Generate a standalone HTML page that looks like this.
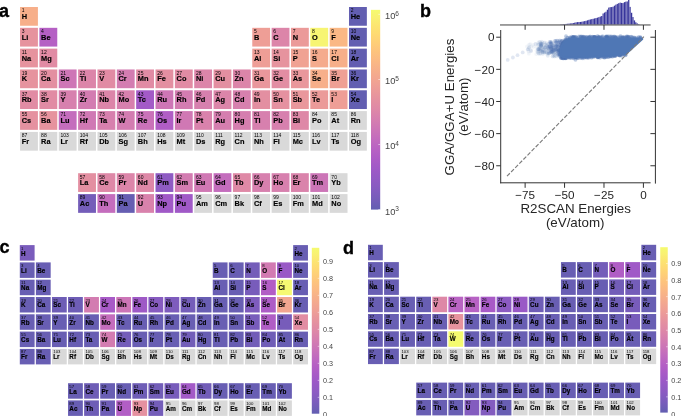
<!DOCTYPE html>
<html><head><meta charset="utf-8"><title>figure</title><style>html,body{margin:0;padding:0;background:#fff}svg{display:block}</style></head><body>
<svg width="685" height="416" viewBox="0 0 685 416" font-family="'Liberation Sans', Arial, Helvetica, sans-serif" fill="#000">
<defs><linearGradient id="pg" x1="0" y1="0" x2="0" y2="1"><stop offset="0.0000" stop-color="#f5fb6f"/><stop offset="0.0417" stop-color="#f9f072"/><stop offset="0.0833" stop-color="#fce471"/><stop offset="0.1250" stop-color="#fed973"/><stop offset="0.1667" stop-color="#fece78"/><stop offset="0.2083" stop-color="#fdc37d"/><stop offset="0.2500" stop-color="#fbba83"/><stop offset="0.2917" stop-color="#f7b189"/><stop offset="0.3333" stop-color="#f3a88f"/><stop offset="0.3750" stop-color="#efa095"/><stop offset="0.4167" stop-color="#e9979b"/><stop offset="0.4583" stop-color="#e38fa1"/><stop offset="0.5000" stop-color="#de88a7"/><stop offset="0.5417" stop-color="#d780ae"/><stop offset="0.5833" stop-color="#cf78b4"/><stop offset="0.6250" stop-color="#c770ba"/><stop offset="0.6667" stop-color="#be68c0"/><stop offset="0.7083" stop-color="#b560c4"/><stop offset="0.7500" stop-color="#ab5bc6"/><stop offset="0.7917" stop-color="#a059c7"/><stop offset="0.8333" stop-color="#955ac5"/><stop offset="0.8750" stop-color="#8b5bc2"/><stop offset="0.9167" stop-color="#7f5cbe"/><stop offset="0.9583" stop-color="#725db8"/><stop offset="1.0000" stop-color="#625eb1"/></linearGradient></defs>
<rect width="685" height="416" fill="#fff"/>
<text x="-0.9" y="16.9" font-size="18" font-weight="bold" stroke="#000" stroke-width="0.35">a</text>
<text x="419.9" y="16.8" font-size="18" font-weight="bold" stroke="#000" stroke-width="0.35">b</text>
<text x="-0.6" y="252.9" font-size="18" font-weight="bold" stroke="#000" stroke-width="0.35">c</text>
<text x="342.9" y="253.7" font-size="18" font-weight="bold" stroke="#000" stroke-width="0.35">d</text>
<g id="pa"><rect x="20.06" y="7.00" width="17.85" height="18.75" fill="#f7af8a"/>
<text x="21.76" y="12.30" font-size="5.0" >1</text>
<text x="21.76" y="18.90" font-size="7.4" font-weight="bold" stroke="#000" stroke-width="0.15">H</text>
<rect x="349.01" y="7.00" width="17.85" height="18.75" fill="#625eb1"/>
<text x="350.71" y="12.30" font-size="5.0" >2</text>
<text x="350.71" y="18.90" font-size="7.4" font-weight="bold" stroke="#000" stroke-width="0.15">He</text>
<rect x="20.06" y="27.82" width="17.85" height="18.75" fill="#e6939e"/>
<text x="21.76" y="33.12" font-size="5.0" >3</text>
<text x="21.76" y="39.72" font-size="7.4" font-weight="bold" stroke="#000" stroke-width="0.15">Li</text>
<rect x="39.41" y="27.82" width="17.85" height="18.75" fill="#b560c4"/>
<text x="41.11" y="33.12" font-size="5.0" >4</text>
<text x="41.11" y="39.72" font-size="7.4" font-weight="bold" stroke="#000" stroke-width="0.15">Be</text>
<rect x="252.26" y="27.82" width="17.85" height="18.75" fill="#ee9e96"/>
<text x="253.96" y="33.12" font-size="5.0" >5</text>
<text x="253.96" y="39.72" font-size="7.4" font-weight="bold" stroke="#000" stroke-width="0.15">B</text>
<rect x="271.61" y="27.82" width="17.85" height="18.75" fill="#dc85a9"/>
<text x="273.31" y="33.12" font-size="5.0" >6</text>
<text x="273.31" y="39.72" font-size="7.4" font-weight="bold" stroke="#000" stroke-width="0.15">C</text>
<rect x="290.96" y="27.82" width="17.85" height="18.75" fill="#eb9a99"/>
<text x="292.66" y="33.12" font-size="5.0" >7</text>
<text x="292.66" y="39.72" font-size="7.4" font-weight="bold" stroke="#000" stroke-width="0.15">N</text>
<rect x="310.31" y="27.82" width="17.85" height="18.75" fill="#f7f573"/>
<text x="312.01" y="33.12" font-size="5.0" >8</text>
<text x="312.01" y="39.72" font-size="7.4" font-weight="bold" stroke="#000" stroke-width="0.15">O</text>
<rect x="329.66" y="27.82" width="17.85" height="18.75" fill="#fab885"/>
<text x="331.36" y="33.12" font-size="5.0" >9</text>
<text x="331.36" y="39.72" font-size="7.4" font-weight="bold" stroke="#000" stroke-width="0.15">F</text>
<rect x="349.01" y="27.82" width="17.85" height="18.75" fill="#625eb1"/>
<text x="350.71" y="33.12" font-size="5.0" >10</text>
<text x="350.71" y="39.72" font-size="7.4" font-weight="bold" stroke="#000" stroke-width="0.15">Ne</text>
<rect x="20.06" y="48.64" width="17.85" height="18.75" fill="#e6939e"/>
<text x="21.76" y="53.94" font-size="5.0" >11</text>
<text x="21.76" y="60.54" font-size="7.4" font-weight="bold" stroke="#000" stroke-width="0.15">Na</text>
<rect x="39.41" y="48.64" width="17.85" height="18.75" fill="#e18ba4"/>
<text x="41.11" y="53.94" font-size="5.0" >12</text>
<text x="41.11" y="60.54" font-size="7.4" font-weight="bold" stroke="#000" stroke-width="0.15">Mg</text>
<rect x="252.26" y="48.64" width="17.85" height="18.75" fill="#ee9e96"/>
<text x="253.96" y="53.94" font-size="5.0" >13</text>
<text x="253.96" y="60.54" font-size="7.4" font-weight="bold" stroke="#000" stroke-width="0.15">Al</text>
<rect x="271.61" y="48.64" width="17.85" height="18.75" fill="#e6939e"/>
<text x="273.31" y="53.94" font-size="5.0" >14</text>
<text x="273.31" y="60.54" font-size="7.4" font-weight="bold" stroke="#000" stroke-width="0.15">Si</text>
<rect x="290.96" y="48.64" width="17.85" height="18.75" fill="#f0a293"/>
<text x="292.66" y="53.94" font-size="5.0" >15</text>
<text x="292.66" y="60.54" font-size="7.4" font-weight="bold" stroke="#000" stroke-width="0.15">P</text>
<rect x="310.31" y="48.64" width="17.85" height="18.75" fill="#f5ab8d"/>
<text x="312.01" y="53.94" font-size="5.0" >16</text>
<text x="312.01" y="60.54" font-size="7.4" font-weight="bold" stroke="#000" stroke-width="0.15">S</text>
<rect x="329.66" y="48.64" width="17.85" height="18.75" fill="#f7af8a"/>
<text x="331.36" y="53.94" font-size="5.0" >17</text>
<text x="331.36" y="60.54" font-size="7.4" font-weight="bold" stroke="#000" stroke-width="0.15">Cl</text>
<rect x="349.01" y="48.64" width="17.85" height="18.75" fill="#625eb1"/>
<text x="350.71" y="53.94" font-size="5.0" >18</text>
<text x="350.71" y="60.54" font-size="7.4" font-weight="bold" stroke="#000" stroke-width="0.15">Ar</text>
<rect x="20.06" y="69.46" width="17.85" height="18.75" fill="#e6939e"/>
<text x="21.76" y="74.76" font-size="5.0" >19</text>
<text x="21.76" y="81.36" font-size="7.4" font-weight="bold" stroke="#000" stroke-width="0.15">K</text>
<rect x="39.41" y="69.46" width="17.85" height="18.75" fill="#e38fa1"/>
<text x="41.11" y="74.76" font-size="5.0" >20</text>
<text x="41.11" y="81.36" font-size="7.4" font-weight="bold" stroke="#000" stroke-width="0.15">Ca</text>
<rect x="58.76" y="69.46" width="17.85" height="18.75" fill="#ce76b6"/>
<text x="60.46" y="74.76" font-size="5.0" >21</text>
<text x="60.46" y="81.36" font-size="7.4" font-weight="bold" stroke="#000" stroke-width="0.15">Sc</text>
<rect x="78.11" y="69.46" width="17.85" height="18.75" fill="#dc85a9"/>
<text x="79.81" y="74.76" font-size="5.0" >22</text>
<text x="79.81" y="81.36" font-size="7.4" font-weight="bold" stroke="#000" stroke-width="0.15">Ti</text>
<rect x="97.46" y="69.46" width="17.85" height="18.75" fill="#e18ba4"/>
<text x="99.16" y="74.76" font-size="5.0" >23</text>
<text x="99.16" y="81.36" font-size="7.4" font-weight="bold" stroke="#000" stroke-width="0.15">V</text>
<rect x="116.81" y="69.46" width="17.85" height="18.75" fill="#d37cb1"/>
<text x="118.51" y="74.76" font-size="5.0" >24</text>
<text x="118.51" y="81.36" font-size="7.4" font-weight="bold" stroke="#000" stroke-width="0.15">Cr</text>
<rect x="136.16" y="69.46" width="17.85" height="18.75" fill="#e18ba4"/>
<text x="137.86" y="74.76" font-size="5.0" >25</text>
<text x="137.86" y="81.36" font-size="7.4" font-weight="bold" stroke="#000" stroke-width="0.15">Mn</text>
<rect x="155.51" y="69.46" width="17.85" height="18.75" fill="#e38fa1"/>
<text x="157.21" y="74.76" font-size="5.0" >26</text>
<text x="157.21" y="81.36" font-size="7.4" font-weight="bold" stroke="#000" stroke-width="0.15">Fe</text>
<rect x="174.86" y="69.46" width="17.85" height="18.75" fill="#e18ba4"/>
<text x="176.56" y="74.76" font-size="5.0" >27</text>
<text x="176.56" y="81.36" font-size="7.4" font-weight="bold" stroke="#000" stroke-width="0.15">Co</text>
<rect x="194.21" y="69.46" width="17.85" height="18.75" fill="#dc85a9"/>
<text x="195.91" y="74.76" font-size="5.0" >28</text>
<text x="195.91" y="81.36" font-size="7.4" font-weight="bold" stroke="#000" stroke-width="0.15">Ni</text>
<rect x="213.56" y="69.46" width="17.85" height="18.75" fill="#e38fa1"/>
<text x="215.26" y="74.76" font-size="5.0" >29</text>
<text x="215.26" y="81.36" font-size="7.4" font-weight="bold" stroke="#000" stroke-width="0.15">Cu</text>
<rect x="232.91" y="69.46" width="17.85" height="18.75" fill="#dc85a9"/>
<text x="234.61" y="74.76" font-size="5.0" >30</text>
<text x="234.61" y="81.36" font-size="7.4" font-weight="bold" stroke="#000" stroke-width="0.15">Zn</text>
<rect x="252.26" y="69.46" width="17.85" height="18.75" fill="#e9979c"/>
<text x="253.96" y="74.76" font-size="5.0" >31</text>
<text x="253.96" y="81.36" font-size="7.4" font-weight="bold" stroke="#000" stroke-width="0.15">Ga</text>
<rect x="271.61" y="69.46" width="17.85" height="18.75" fill="#e28da3"/>
<text x="273.31" y="74.76" font-size="5.0" >32</text>
<text x="273.31" y="81.36" font-size="7.4" font-weight="bold" stroke="#000" stroke-width="0.15">Ge</text>
<rect x="290.96" y="69.46" width="17.85" height="18.75" fill="#e9979c"/>
<text x="292.66" y="74.76" font-size="5.0" >33</text>
<text x="292.66" y="81.36" font-size="7.4" font-weight="bold" stroke="#000" stroke-width="0.15">As</text>
<rect x="310.31" y="69.46" width="17.85" height="18.75" fill="#f7af8a"/>
<text x="312.01" y="74.76" font-size="5.0" >34</text>
<text x="312.01" y="81.36" font-size="7.4" font-weight="bold" stroke="#000" stroke-width="0.15">Se</text>
<rect x="329.66" y="69.46" width="17.85" height="18.75" fill="#efa094"/>
<text x="331.36" y="74.76" font-size="5.0" >35</text>
<text x="331.36" y="81.36" font-size="7.4" font-weight="bold" stroke="#000" stroke-width="0.15">Br</text>
<rect x="349.01" y="69.46" width="17.85" height="18.75" fill="#625eb1"/>
<text x="350.71" y="74.76" font-size="5.0" >36</text>
<text x="350.71" y="81.36" font-size="7.4" font-weight="bold" stroke="#000" stroke-width="0.15">Kr</text>
<rect x="20.06" y="90.28" width="17.85" height="18.75" fill="#e18ba4"/>
<text x="21.76" y="95.58" font-size="5.0" >37</text>
<text x="21.76" y="102.18" font-size="7.4" font-weight="bold" stroke="#000" stroke-width="0.15">Rb</text>
<rect x="39.41" y="90.28" width="17.85" height="18.75" fill="#e18ba4"/>
<text x="41.11" y="95.58" font-size="5.0" >38</text>
<text x="41.11" y="102.18" font-size="7.4" font-weight="bold" stroke="#000" stroke-width="0.15">Sr</text>
<rect x="58.76" y="90.28" width="17.85" height="18.75" fill="#d780ae"/>
<text x="60.46" y="95.58" font-size="5.0" >39</text>
<text x="60.46" y="102.18" font-size="7.4" font-weight="bold" stroke="#000" stroke-width="0.15">Y</text>
<rect x="78.11" y="90.28" width="17.85" height="18.75" fill="#d37cb1"/>
<text x="79.81" y="95.58" font-size="5.0" >40</text>
<text x="79.81" y="102.18" font-size="7.4" font-weight="bold" stroke="#000" stroke-width="0.15">Zr</text>
<rect x="97.46" y="90.28" width="17.85" height="18.75" fill="#dc85a9"/>
<text x="99.16" y="95.58" font-size="5.0" >41</text>
<text x="99.16" y="102.18" font-size="7.4" font-weight="bold" stroke="#000" stroke-width="0.15">Nb</text>
<rect x="116.81" y="90.28" width="17.85" height="18.75" fill="#d780ae"/>
<text x="118.51" y="95.58" font-size="5.0" >42</text>
<text x="118.51" y="102.18" font-size="7.4" font-weight="bold" stroke="#000" stroke-width="0.15">Mo</text>
<rect x="136.16" y="90.28" width="17.85" height="18.75" fill="#a35ac7"/>
<text x="137.86" y="95.58" font-size="5.0" >43</text>
<text x="137.86" y="102.18" font-size="7.4" font-weight="bold" stroke="#000" stroke-width="0.15">Tc</text>
<rect x="155.51" y="90.28" width="17.85" height="18.75" fill="#ce76b6"/>
<text x="157.21" y="95.58" font-size="5.0" >44</text>
<text x="157.21" y="102.18" font-size="7.4" font-weight="bold" stroke="#000" stroke-width="0.15">Ru</text>
<rect x="174.86" y="90.28" width="17.85" height="18.75" fill="#d37cb1"/>
<text x="176.56" y="95.58" font-size="5.0" >45</text>
<text x="176.56" y="102.18" font-size="7.4" font-weight="bold" stroke="#000" stroke-width="0.15">Rh</text>
<rect x="194.21" y="90.28" width="17.85" height="18.75" fill="#d780ae"/>
<text x="195.91" y="95.58" font-size="5.0" >46</text>
<text x="195.91" y="102.18" font-size="7.4" font-weight="bold" stroke="#000" stroke-width="0.15">Pd</text>
<rect x="213.56" y="90.28" width="17.85" height="18.75" fill="#dc85a9"/>
<text x="215.26" y="95.58" font-size="5.0" >47</text>
<text x="215.26" y="102.18" font-size="7.4" font-weight="bold" stroke="#000" stroke-width="0.15">Ag</text>
<rect x="232.91" y="90.28" width="17.85" height="18.75" fill="#d780ae"/>
<text x="234.61" y="95.58" font-size="5.0" >48</text>
<text x="234.61" y="102.18" font-size="7.4" font-weight="bold" stroke="#000" stroke-width="0.15">Cd</text>
<rect x="252.26" y="90.28" width="17.85" height="18.75" fill="#e38fa1"/>
<text x="253.96" y="95.58" font-size="5.0" >49</text>
<text x="253.96" y="102.18" font-size="7.4" font-weight="bold" stroke="#000" stroke-width="0.15">In</text>
<rect x="271.61" y="90.28" width="17.85" height="18.75" fill="#e591a0"/>
<text x="273.31" y="95.58" font-size="5.0" >50</text>
<text x="273.31" y="102.18" font-size="7.4" font-weight="bold" stroke="#000" stroke-width="0.15">Sn</text>
<rect x="290.96" y="90.28" width="17.85" height="18.75" fill="#e9979c"/>
<text x="292.66" y="95.58" font-size="5.0" >51</text>
<text x="292.66" y="102.18" font-size="7.4" font-weight="bold" stroke="#000" stroke-width="0.15">Sb</text>
<rect x="310.31" y="90.28" width="17.85" height="18.75" fill="#eb9a99"/>
<text x="312.01" y="95.58" font-size="5.0" >52</text>
<text x="312.01" y="102.18" font-size="7.4" font-weight="bold" stroke="#000" stroke-width="0.15">Te</text>
<rect x="329.66" y="90.28" width="17.85" height="18.75" fill="#ee9e96"/>
<text x="331.36" y="95.58" font-size="5.0" >53</text>
<text x="331.36" y="102.18" font-size="7.4" font-weight="bold" stroke="#000" stroke-width="0.15">I</text>
<rect x="349.01" y="90.28" width="17.85" height="18.75" fill="#625eb1"/>
<text x="350.71" y="95.58" font-size="5.0" >54</text>
<text x="350.71" y="102.18" font-size="7.4" font-weight="bold" stroke="#000" stroke-width="0.15">Xe</text>
<rect x="20.06" y="111.10" width="17.85" height="18.75" fill="#e591a0"/>
<text x="21.76" y="116.40" font-size="5.0" >55</text>
<text x="21.76" y="123.00" font-size="7.4" font-weight="bold" stroke="#000" stroke-width="0.15">Cs</text>
<rect x="39.41" y="111.10" width="17.85" height="18.75" fill="#e6939e"/>
<text x="41.11" y="116.40" font-size="5.0" >56</text>
<text x="41.11" y="123.00" font-size="7.4" font-weight="bold" stroke="#000" stroke-width="0.15">Ba</text>
<rect x="58.76" y="111.10" width="17.85" height="18.75" fill="#c46dbd"/>
<text x="60.46" y="116.40" font-size="5.0" >71</text>
<text x="60.46" y="123.00" font-size="7.4" font-weight="bold" stroke="#000" stroke-width="0.15">Lu</text>
<rect x="78.11" y="111.10" width="17.85" height="18.75" fill="#d078b4"/>
<text x="79.81" y="116.40" font-size="5.0" >72</text>
<text x="79.81" y="123.00" font-size="7.4" font-weight="bold" stroke="#000" stroke-width="0.15">Hf</text>
<rect x="97.46" y="111.10" width="17.85" height="18.75" fill="#d780ae"/>
<text x="99.16" y="116.40" font-size="5.0" >73</text>
<text x="99.16" y="123.00" font-size="7.4" font-weight="bold" stroke="#000" stroke-width="0.15">Ta</text>
<rect x="116.81" y="111.10" width="17.85" height="18.75" fill="#d37cb1"/>
<text x="118.51" y="116.40" font-size="5.0" >74</text>
<text x="118.51" y="123.00" font-size="7.4" font-weight="bold" stroke="#000" stroke-width="0.15">W</text>
<rect x="136.16" y="111.10" width="17.85" height="18.75" fill="#ca72b9"/>
<text x="137.86" y="116.40" font-size="5.0" >75</text>
<text x="137.86" y="123.00" font-size="7.4" font-weight="bold" stroke="#000" stroke-width="0.15">Re</text>
<rect x="155.51" y="111.10" width="17.85" height="18.75" fill="#b05dc5"/>
<text x="157.21" y="116.40" font-size="5.0" >76</text>
<text x="157.21" y="123.00" font-size="7.4" font-weight="bold" stroke="#000" stroke-width="0.15">Os</text>
<rect x="174.86" y="111.10" width="17.85" height="18.75" fill="#d078b4"/>
<text x="176.56" y="116.40" font-size="5.0" >77</text>
<text x="176.56" y="123.00" font-size="7.4" font-weight="bold" stroke="#000" stroke-width="0.15">Ir</text>
<rect x="194.21" y="111.10" width="17.85" height="18.75" fill="#d982ac"/>
<text x="195.91" y="116.40" font-size="5.0" >78</text>
<text x="195.91" y="123.00" font-size="7.4" font-weight="bold" stroke="#000" stroke-width="0.15">Pt</text>
<rect x="213.56" y="111.10" width="17.85" height="18.75" fill="#d57eaf"/>
<text x="215.26" y="116.40" font-size="5.0" >79</text>
<text x="215.26" y="123.00" font-size="7.4" font-weight="bold" stroke="#000" stroke-width="0.15">Au</text>
<rect x="232.91" y="111.10" width="17.85" height="18.75" fill="#d57eaf"/>
<text x="234.61" y="116.40" font-size="5.0" >80</text>
<text x="234.61" y="123.00" font-size="7.4" font-weight="bold" stroke="#000" stroke-width="0.15">Hg</text>
<rect x="252.26" y="111.10" width="17.85" height="18.75" fill="#d780ae"/>
<text x="253.96" y="116.40" font-size="5.0" >81</text>
<text x="253.96" y="123.00" font-size="7.4" font-weight="bold" stroke="#000" stroke-width="0.15">Tl</text>
<rect x="271.61" y="111.10" width="17.85" height="18.75" fill="#d780ae"/>
<text x="273.31" y="116.40" font-size="5.0" >82</text>
<text x="273.31" y="123.00" font-size="7.4" font-weight="bold" stroke="#000" stroke-width="0.15">Pb</text>
<rect x="290.96" y="111.10" width="17.85" height="18.75" fill="#de88a7"/>
<text x="292.66" y="116.40" font-size="5.0" >83</text>
<text x="292.66" y="123.00" font-size="7.4" font-weight="bold" stroke="#000" stroke-width="0.15">Bi</text>
<rect x="310.31" y="111.10" width="17.85" height="18.75" fill="#d9d9d9"/>
<text x="312.01" y="116.40" font-size="5.0" >84</text>
<text x="312.01" y="123.00" font-size="7.4" font-weight="bold" stroke="#000" stroke-width="0.15">Po</text>
<rect x="329.66" y="111.10" width="17.85" height="18.75" fill="#d9d9d9"/>
<text x="331.36" y="116.40" font-size="5.0" >85</text>
<text x="331.36" y="123.00" font-size="7.4" font-weight="bold" stroke="#000" stroke-width="0.15">At</text>
<rect x="349.01" y="111.10" width="17.85" height="18.75" fill="#d9d9d9"/>
<text x="350.71" y="116.40" font-size="5.0" >86</text>
<text x="350.71" y="123.00" font-size="7.4" font-weight="bold" stroke="#000" stroke-width="0.15">Rn</text>
<rect x="20.06" y="131.92" width="17.85" height="18.75" fill="#d9d9d9"/>
<text x="21.76" y="137.22" font-size="5.0" >87</text>
<text x="21.76" y="143.82" font-size="7.4" font-weight="bold" stroke="#000" stroke-width="0.15">Fr</text>
<rect x="39.41" y="131.92" width="17.85" height="18.75" fill="#d9d9d9"/>
<text x="41.11" y="137.22" font-size="5.0" >88</text>
<text x="41.11" y="143.82" font-size="7.4" font-weight="bold" stroke="#000" stroke-width="0.15">Ra</text>
<rect x="58.76" y="131.92" width="17.85" height="18.75" fill="#d9d9d9"/>
<text x="60.46" y="137.22" font-size="5.0" >103</text>
<text x="60.46" y="143.82" font-size="7.4" font-weight="bold" stroke="#000" stroke-width="0.15">Lr</text>
<rect x="78.11" y="131.92" width="17.85" height="18.75" fill="#d9d9d9"/>
<text x="79.81" y="137.22" font-size="5.0" >104</text>
<text x="79.81" y="143.82" font-size="7.4" font-weight="bold" stroke="#000" stroke-width="0.15">Rf</text>
<rect x="97.46" y="131.92" width="17.85" height="18.75" fill="#d9d9d9"/>
<text x="99.16" y="137.22" font-size="5.0" >105</text>
<text x="99.16" y="143.82" font-size="7.4" font-weight="bold" stroke="#000" stroke-width="0.15">Db</text>
<rect x="116.81" y="131.92" width="17.85" height="18.75" fill="#d9d9d9"/>
<text x="118.51" y="137.22" font-size="5.0" >106</text>
<text x="118.51" y="143.82" font-size="7.4" font-weight="bold" stroke="#000" stroke-width="0.15">Sg</text>
<rect x="136.16" y="131.92" width="17.85" height="18.75" fill="#d9d9d9"/>
<text x="137.86" y="137.22" font-size="5.0" >107</text>
<text x="137.86" y="143.82" font-size="7.4" font-weight="bold" stroke="#000" stroke-width="0.15">Bh</text>
<rect x="155.51" y="131.92" width="17.85" height="18.75" fill="#d9d9d9"/>
<text x="157.21" y="137.22" font-size="5.0" >108</text>
<text x="157.21" y="143.82" font-size="7.4" font-weight="bold" stroke="#000" stroke-width="0.15">Hs</text>
<rect x="174.86" y="131.92" width="17.85" height="18.75" fill="#d9d9d9"/>
<text x="176.56" y="137.22" font-size="5.0" >109</text>
<text x="176.56" y="143.82" font-size="7.4" font-weight="bold" stroke="#000" stroke-width="0.15">Mt</text>
<rect x="194.21" y="131.92" width="17.85" height="18.75" fill="#d9d9d9"/>
<text x="195.91" y="137.22" font-size="5.0" >110</text>
<text x="195.91" y="143.82" font-size="7.4" font-weight="bold" stroke="#000" stroke-width="0.15">Ds</text>
<rect x="213.56" y="131.92" width="17.85" height="18.75" fill="#d9d9d9"/>
<text x="215.26" y="137.22" font-size="5.0" >111</text>
<text x="215.26" y="143.82" font-size="7.4" font-weight="bold" stroke="#000" stroke-width="0.15">Rg</text>
<rect x="232.91" y="131.92" width="17.85" height="18.75" fill="#d9d9d9"/>
<text x="234.61" y="137.22" font-size="5.0" >112</text>
<text x="234.61" y="143.82" font-size="7.4" font-weight="bold" stroke="#000" stroke-width="0.15">Cn</text>
<rect x="252.26" y="131.92" width="17.85" height="18.75" fill="#d9d9d9"/>
<text x="253.96" y="137.22" font-size="5.0" >113</text>
<text x="253.96" y="143.82" font-size="7.4" font-weight="bold" stroke="#000" stroke-width="0.15">Nh</text>
<rect x="271.61" y="131.92" width="17.85" height="18.75" fill="#d9d9d9"/>
<text x="273.31" y="137.22" font-size="5.0" >114</text>
<text x="273.31" y="143.82" font-size="7.4" font-weight="bold" stroke="#000" stroke-width="0.15">Fl</text>
<rect x="290.96" y="131.92" width="17.85" height="18.75" fill="#d9d9d9"/>
<text x="292.66" y="137.22" font-size="5.0" >115</text>
<text x="292.66" y="143.82" font-size="7.4" font-weight="bold" stroke="#000" stroke-width="0.15">Mc</text>
<rect x="310.31" y="131.92" width="17.85" height="18.75" fill="#d9d9d9"/>
<text x="312.01" y="137.22" font-size="5.0" >116</text>
<text x="312.01" y="143.82" font-size="7.4" font-weight="bold" stroke="#000" stroke-width="0.15">Lv</text>
<rect x="329.66" y="131.92" width="17.85" height="18.75" fill="#d9d9d9"/>
<text x="331.36" y="137.22" font-size="5.0" >117</text>
<text x="331.36" y="143.82" font-size="7.4" font-weight="bold" stroke="#000" stroke-width="0.15">Ts</text>
<rect x="349.01" y="131.92" width="17.85" height="18.75" fill="#d9d9d9"/>
<text x="350.71" y="137.22" font-size="5.0" >118</text>
<text x="350.71" y="143.82" font-size="7.4" font-weight="bold" stroke="#000" stroke-width="0.15">Og</text>
<rect x="78.11" y="173.20" width="17.85" height="18.75" fill="#e38fa1"/>
<text x="79.81" y="178.50" font-size="5.0" >57</text>
<text x="79.81" y="185.10" font-size="7.4" font-weight="bold" stroke="#000" stroke-width="0.15">La</text>
<rect x="97.46" y="173.20" width="17.85" height="18.75" fill="#de88a7"/>
<text x="99.16" y="178.50" font-size="5.0" >58</text>
<text x="99.16" y="185.10" font-size="7.4" font-weight="bold" stroke="#000" stroke-width="0.15">Ce</text>
<rect x="116.81" y="173.20" width="17.85" height="18.75" fill="#dc85a9"/>
<text x="118.51" y="178.50" font-size="5.0" >59</text>
<text x="118.51" y="185.10" font-size="7.4" font-weight="bold" stroke="#000" stroke-width="0.15">Pr</text>
<rect x="136.16" y="173.20" width="17.85" height="18.75" fill="#de88a7"/>
<text x="137.86" y="178.50" font-size="5.0" >60</text>
<text x="137.86" y="185.10" font-size="7.4" font-weight="bold" stroke="#000" stroke-width="0.15">Nd</text>
<rect x="155.51" y="173.20" width="17.85" height="18.75" fill="#8e5bc3"/>
<text x="157.21" y="178.50" font-size="5.0" >61</text>
<text x="157.21" y="185.10" font-size="7.4" font-weight="bold" stroke="#000" stroke-width="0.15">Pm</text>
<rect x="174.86" y="173.20" width="17.85" height="18.75" fill="#d37cb1"/>
<text x="176.56" y="178.50" font-size="5.0" >62</text>
<text x="176.56" y="185.10" font-size="7.4" font-weight="bold" stroke="#000" stroke-width="0.15">Sm</text>
<rect x="194.21" y="173.20" width="17.85" height="18.75" fill="#d078b4"/>
<text x="195.91" y="178.50" font-size="5.0" >63</text>
<text x="195.91" y="185.10" font-size="7.4" font-weight="bold" stroke="#000" stroke-width="0.15">Eu</text>
<rect x="213.56" y="173.20" width="17.85" height="18.75" fill="#c46dbd"/>
<text x="215.26" y="178.50" font-size="5.0" >64</text>
<text x="215.26" y="185.10" font-size="7.4" font-weight="bold" stroke="#000" stroke-width="0.15">Gd</text>
<rect x="232.91" y="173.20" width="17.85" height="18.75" fill="#df89a6"/>
<text x="234.61" y="178.50" font-size="5.0" >65</text>
<text x="234.61" y="185.10" font-size="7.4" font-weight="bold" stroke="#000" stroke-width="0.15">Tb</text>
<rect x="252.26" y="173.20" width="17.85" height="18.75" fill="#d780ae"/>
<text x="253.96" y="178.50" font-size="5.0" >66</text>
<text x="253.96" y="185.10" font-size="7.4" font-weight="bold" stroke="#000" stroke-width="0.15">Dy</text>
<rect x="271.61" y="173.20" width="17.85" height="18.75" fill="#d780ae"/>
<text x="273.31" y="178.50" font-size="5.0" >67</text>
<text x="273.31" y="185.10" font-size="7.4" font-weight="bold" stroke="#000" stroke-width="0.15">Ho</text>
<rect x="290.96" y="173.20" width="17.85" height="18.75" fill="#da83ab"/>
<text x="292.66" y="178.50" font-size="5.0" >68</text>
<text x="292.66" y="185.10" font-size="7.4" font-weight="bold" stroke="#000" stroke-width="0.15">Er</text>
<rect x="310.31" y="173.20" width="17.85" height="18.75" fill="#cc75b7"/>
<text x="312.01" y="178.50" font-size="5.0" >69</text>
<text x="312.01" y="185.10" font-size="7.4" font-weight="bold" stroke="#000" stroke-width="0.15">Tm</text>
<rect x="329.66" y="173.20" width="17.85" height="18.75" fill="#d9d9d9"/>
<text x="331.36" y="178.50" font-size="5.0" >70</text>
<text x="331.36" y="185.10" font-size="7.4" font-weight="bold" stroke="#000" stroke-width="0.15">Yb</text>
<rect x="78.11" y="194.10" width="17.85" height="18.75" fill="#745db9"/>
<text x="79.81" y="199.40" font-size="5.0" >89</text>
<text x="79.81" y="206.00" font-size="7.4" font-weight="bold" stroke="#000" stroke-width="0.15">Ac</text>
<rect x="97.46" y="194.10" width="17.85" height="18.75" fill="#c46dbd"/>
<text x="99.16" y="199.40" font-size="5.0" >90</text>
<text x="99.16" y="206.00" font-size="7.4" font-weight="bold" stroke="#000" stroke-width="0.15">Th</text>
<rect x="116.81" y="194.10" width="17.85" height="18.75" fill="#665eb2"/>
<text x="118.51" y="199.40" font-size="5.0" >91</text>
<text x="118.51" y="206.00" font-size="7.4" font-weight="bold" stroke="#000" stroke-width="0.15">Pa</text>
<rect x="136.16" y="194.10" width="17.85" height="18.75" fill="#d982ac"/>
<text x="137.86" y="199.40" font-size="5.0" >92</text>
<text x="137.86" y="206.00" font-size="7.4" font-weight="bold" stroke="#000" stroke-width="0.15">U</text>
<rect x="155.51" y="194.10" width="17.85" height="18.75" fill="#a059c7"/>
<text x="157.21" y="199.40" font-size="5.0" >93</text>
<text x="157.21" y="206.00" font-size="7.4" font-weight="bold" stroke="#000" stroke-width="0.15">Np</text>
<rect x="174.86" y="194.10" width="17.85" height="18.75" fill="#a059c7"/>
<text x="176.56" y="199.40" font-size="5.0" >94</text>
<text x="176.56" y="206.00" font-size="7.4" font-weight="bold" stroke="#000" stroke-width="0.15">Pu</text>
<rect x="194.21" y="194.10" width="17.85" height="18.75" fill="#d9d9d9"/>
<text x="195.91" y="199.40" font-size="5.0" >95</text>
<text x="195.91" y="206.00" font-size="7.4" font-weight="bold" stroke="#000" stroke-width="0.15">Am</text>
<rect x="213.56" y="194.10" width="17.85" height="18.75" fill="#d9d9d9"/>
<text x="215.26" y="199.40" font-size="5.0" >96</text>
<text x="215.26" y="206.00" font-size="7.4" font-weight="bold" stroke="#000" stroke-width="0.15">Cm</text>
<rect x="232.91" y="194.10" width="17.85" height="18.75" fill="#d9d9d9"/>
<text x="234.61" y="199.40" font-size="5.0" >97</text>
<text x="234.61" y="206.00" font-size="7.4" font-weight="bold" stroke="#000" stroke-width="0.15">Bk</text>
<rect x="252.26" y="194.10" width="17.85" height="18.75" fill="#d9d9d9"/>
<text x="253.96" y="199.40" font-size="5.0" >98</text>
<text x="253.96" y="206.00" font-size="7.4" font-weight="bold" stroke="#000" stroke-width="0.15">Cf</text>
<rect x="271.61" y="194.10" width="17.85" height="18.75" fill="#d9d9d9"/>
<text x="273.31" y="199.40" font-size="5.0" >99</text>
<text x="273.31" y="206.00" font-size="7.4" font-weight="bold" stroke="#000" stroke-width="0.15">Es</text>
<rect x="290.96" y="194.10" width="17.85" height="18.75" fill="#d9d9d9"/>
<text x="292.66" y="199.40" font-size="5.0" >100</text>
<text x="292.66" y="206.00" font-size="7.4" font-weight="bold" stroke="#000" stroke-width="0.15">Fm</text>
<rect x="310.31" y="194.10" width="17.85" height="18.75" fill="#d9d9d9"/>
<text x="312.01" y="199.40" font-size="5.0" >101</text>
<text x="312.01" y="206.00" font-size="7.4" font-weight="bold" stroke="#000" stroke-width="0.15">Md</text>
<rect x="329.66" y="194.10" width="17.85" height="18.75" fill="#d9d9d9"/>
<text x="331.36" y="199.40" font-size="5.0" >102</text>
<text x="331.36" y="206.00" font-size="7.4" font-weight="bold" stroke="#000" stroke-width="0.15">No</text></g>
<rect x="371" y="9.85" width="9.2" height="199.75" fill="url(#pg)"/>
<rect x="378.3" y="13.899999999999999" width="1.9" height="0.6" fill="#fff" fill-opacity="0.85"/>
<text x="385" y="19.2" font-size="9.3" fill="#444">10<tspan dy="-3.7" font-size="6.5">6</tspan></text>
<rect x="378.3" y="79.0" width="1.9" height="0.6" fill="#fff" fill-opacity="0.85"/>
<text x="385" y="84.3" font-size="9.3" fill="#444">10<tspan dy="-3.7" font-size="6.5">5</tspan></text>
<rect x="378.3" y="144.1" width="1.9" height="0.6" fill="#fff" fill-opacity="0.85"/>
<text x="385" y="149.4" font-size="9.3" fill="#444">10<tspan dy="-3.7" font-size="6.5">4</tspan></text>
<rect x="378.3" y="209.29999999999998" width="1.9" height="0.6" fill="#fff" fill-opacity="0.85"/>
<text x="385" y="214.6" font-size="9.3" fill="#444">10<tspan dy="-3.7" font-size="6.5">3</tspan></text>
<g id="pc"><rect x="19.80" y="245.10" width="14.80" height="15.50" fill="#7a5cbc"/>
<text x="21.10" y="249.60" font-size="4.3" >1</text>
<text x="21.10" y="255.50" font-size="6.3" font-weight="bold" stroke="#000" stroke-width="0.15">H</text>
<rect x="293.16" y="245.10" width="14.80" height="15.50" fill="#685eb3"/>
<text x="294.46" y="249.60" font-size="4.3" >2</text>
<text x="294.46" y="255.50" font-size="6.3" font-weight="bold" stroke="#000" stroke-width="0.15">He</text>
<rect x="19.80" y="262.40" width="14.80" height="15.50" fill="#685eb3"/>
<text x="21.10" y="266.90" font-size="4.3" >3</text>
<text x="21.10" y="272.80" font-size="6.3" font-weight="bold" stroke="#000" stroke-width="0.15">Li</text>
<rect x="35.88" y="262.40" width="14.80" height="15.50" fill="#685eb3"/>
<text x="37.18" y="266.90" font-size="4.3" >4</text>
<text x="37.18" y="272.80" font-size="6.3" font-weight="bold" stroke="#000" stroke-width="0.15">Be</text>
<rect x="212.76" y="262.40" width="14.80" height="15.50" fill="#685eb3"/>
<text x="214.06" y="266.90" font-size="4.3" >5</text>
<text x="214.06" y="272.80" font-size="6.3" font-weight="bold" stroke="#000" stroke-width="0.15">B</text>
<rect x="228.84" y="262.40" width="14.80" height="15.50" fill="#685eb3"/>
<text x="230.14" y="266.90" font-size="4.3" >6</text>
<text x="230.14" y="272.80" font-size="6.3" font-weight="bold" stroke="#000" stroke-width="0.15">C</text>
<rect x="244.92" y="262.40" width="14.80" height="15.50" fill="#745db9"/>
<text x="246.22" y="266.90" font-size="4.3" >7</text>
<text x="246.22" y="272.80" font-size="6.3" font-weight="bold" stroke="#000" stroke-width="0.15">N</text>
<rect x="261.00" y="262.40" width="14.80" height="15.50" fill="#d27ab2"/>
<text x="262.30" y="266.90" font-size="4.3" >8</text>
<text x="262.30" y="272.80" font-size="6.3" font-weight="bold" stroke="#000" stroke-width="0.15">O</text>
<rect x="277.08" y="262.40" width="14.80" height="15.50" fill="#9959c6"/>
<text x="278.38" y="266.90" font-size="4.3" >9</text>
<text x="278.38" y="272.80" font-size="6.3" font-weight="bold" stroke="#000" stroke-width="0.15">F</text>
<rect x="293.16" y="262.40" width="14.80" height="15.50" fill="#685eb3"/>
<text x="294.46" y="266.90" font-size="4.3" >10</text>
<text x="294.46" y="272.80" font-size="6.3" font-weight="bold" stroke="#000" stroke-width="0.15">Ne</text>
<rect x="19.80" y="279.70" width="14.80" height="15.50" fill="#685eb3"/>
<text x="21.10" y="284.20" font-size="4.3" >11</text>
<text x="21.10" y="290.10" font-size="6.3" font-weight="bold" stroke="#000" stroke-width="0.15">Na</text>
<rect x="35.88" y="279.70" width="14.80" height="15.50" fill="#685eb3"/>
<text x="37.18" y="284.20" font-size="4.3" >12</text>
<text x="37.18" y="290.10" font-size="6.3" font-weight="bold" stroke="#000" stroke-width="0.15">Mg</text>
<rect x="212.76" y="279.70" width="14.80" height="15.50" fill="#685eb3"/>
<text x="214.06" y="284.20" font-size="4.3" >13</text>
<text x="214.06" y="290.10" font-size="6.3" font-weight="bold" stroke="#000" stroke-width="0.15">Al</text>
<rect x="228.84" y="279.70" width="14.80" height="15.50" fill="#685eb3"/>
<text x="230.14" y="284.20" font-size="4.3" >14</text>
<text x="230.14" y="290.10" font-size="6.3" font-weight="bold" stroke="#000" stroke-width="0.15">Si</text>
<rect x="244.92" y="279.70" width="14.80" height="15.50" fill="#785cbb"/>
<text x="246.22" y="284.20" font-size="4.3" >15</text>
<text x="246.22" y="290.10" font-size="6.3" font-weight="bold" stroke="#000" stroke-width="0.15">P</text>
<rect x="261.00" y="279.70" width="14.80" height="15.50" fill="#b25ec5"/>
<text x="262.30" y="284.20" font-size="4.3" >16</text>
<text x="262.30" y="290.10" font-size="6.3" font-weight="bold" stroke="#000" stroke-width="0.15">S</text>
<rect x="277.08" y="279.70" width="14.80" height="15.50" fill="#f6f972"/>
<text x="278.38" y="284.20" font-size="4.3" >17</text>
<text x="278.38" y="290.10" font-size="6.3" font-weight="bold" stroke="#000" stroke-width="0.15">Cl</text>
<rect x="293.16" y="279.70" width="14.80" height="15.50" fill="#685eb3"/>
<text x="294.46" y="284.20" font-size="4.3" >18</text>
<text x="294.46" y="290.10" font-size="6.3" font-weight="bold" stroke="#000" stroke-width="0.15">Ar</text>
<rect x="19.80" y="297.00" width="14.80" height="15.50" fill="#685eb3"/>
<text x="21.10" y="301.50" font-size="4.3" >19</text>
<text x="21.10" y="307.40" font-size="6.3" font-weight="bold" stroke="#000" stroke-width="0.15">K</text>
<rect x="35.88" y="297.00" width="14.80" height="15.50" fill="#685eb3"/>
<text x="37.18" y="301.50" font-size="4.3" >20</text>
<text x="37.18" y="307.40" font-size="6.3" font-weight="bold" stroke="#000" stroke-width="0.15">Ca</text>
<rect x="51.96" y="297.00" width="14.80" height="15.50" fill="#6e5db6"/>
<text x="53.26" y="301.50" font-size="4.3" >21</text>
<text x="53.26" y="307.40" font-size="6.3" font-weight="bold" stroke="#000" stroke-width="0.15">Sc</text>
<rect x="68.04" y="297.00" width="14.80" height="15.50" fill="#6e5db6"/>
<text x="69.34" y="301.50" font-size="4.3" >22</text>
<text x="69.34" y="307.40" font-size="6.3" font-weight="bold" stroke="#000" stroke-width="0.15">Ti</text>
<rect x="84.12" y="297.00" width="14.80" height="15.50" fill="#d37cb1"/>
<text x="85.42" y="301.50" font-size="4.3" >23</text>
<text x="85.42" y="307.40" font-size="6.3" font-weight="bold" stroke="#000" stroke-width="0.15">V</text>
<rect x="100.20" y="297.00" width="14.80" height="15.50" fill="#a85ac7"/>
<text x="101.50" y="301.50" font-size="4.3" >24</text>
<text x="101.50" y="307.40" font-size="6.3" font-weight="bold" stroke="#000" stroke-width="0.15">Cr</text>
<rect x="116.28" y="297.00" width="14.80" height="15.50" fill="#cc75b7"/>
<text x="117.58" y="301.50" font-size="4.3" >25</text>
<text x="117.58" y="307.40" font-size="6.3" font-weight="bold" stroke="#000" stroke-width="0.15">Mn</text>
<rect x="132.36" y="297.00" width="14.80" height="15.50" fill="#9e59c6"/>
<text x="133.66" y="301.50" font-size="4.3" >26</text>
<text x="133.66" y="307.40" font-size="6.3" font-weight="bold" stroke="#000" stroke-width="0.15">Fe</text>
<rect x="148.44" y="297.00" width="14.80" height="15.50" fill="#875bc0"/>
<text x="149.74" y="301.50" font-size="4.3" >27</text>
<text x="149.74" y="307.40" font-size="6.3" font-weight="bold" stroke="#000" stroke-width="0.15">Co</text>
<rect x="164.52" y="297.00" width="14.80" height="15.50" fill="#7e5cbd"/>
<text x="165.82" y="301.50" font-size="4.3" >28</text>
<text x="165.82" y="307.40" font-size="6.3" font-weight="bold" stroke="#000" stroke-width="0.15">Ni</text>
<rect x="180.60" y="297.00" width="14.80" height="15.50" fill="#745db9"/>
<text x="181.90" y="301.50" font-size="4.3" >29</text>
<text x="181.90" y="307.40" font-size="6.3" font-weight="bold" stroke="#000" stroke-width="0.15">Cu</text>
<rect x="196.68" y="297.00" width="14.80" height="15.50" fill="#685eb3"/>
<text x="197.98" y="301.50" font-size="4.3" >30</text>
<text x="197.98" y="307.40" font-size="6.3" font-weight="bold" stroke="#000" stroke-width="0.15">Zn</text>
<rect x="212.76" y="297.00" width="14.80" height="15.50" fill="#685eb3"/>
<text x="214.06" y="301.50" font-size="4.3" >31</text>
<text x="214.06" y="307.40" font-size="6.3" font-weight="bold" stroke="#000" stroke-width="0.15">Ga</text>
<rect x="228.84" y="297.00" width="14.80" height="15.50" fill="#685eb3"/>
<text x="230.14" y="301.50" font-size="4.3" >32</text>
<text x="230.14" y="307.40" font-size="6.3" font-weight="bold" stroke="#000" stroke-width="0.15">Ge</text>
<rect x="244.92" y="297.00" width="14.80" height="15.50" fill="#7e5cbd"/>
<text x="246.22" y="301.50" font-size="4.3" >33</text>
<text x="246.22" y="307.40" font-size="6.3" font-weight="bold" stroke="#000" stroke-width="0.15">As</text>
<rect x="261.00" y="297.00" width="14.80" height="15.50" fill="#ad5cc6"/>
<text x="262.30" y="301.50" font-size="4.3" >34</text>
<text x="262.30" y="307.40" font-size="6.3" font-weight="bold" stroke="#000" stroke-width="0.15">Se</text>
<rect x="277.08" y="297.00" width="14.80" height="15.50" fill="#f2a690"/>
<text x="278.38" y="301.50" font-size="4.3" >35</text>
<text x="278.38" y="307.40" font-size="6.3" font-weight="bold" stroke="#000" stroke-width="0.15">Br</text>
<rect x="293.16" y="297.00" width="14.80" height="15.50" fill="#685eb3"/>
<text x="294.46" y="301.50" font-size="4.3" >36</text>
<text x="294.46" y="307.40" font-size="6.3" font-weight="bold" stroke="#000" stroke-width="0.15">Kr</text>
<rect x="19.80" y="314.30" width="14.80" height="15.50" fill="#685eb3"/>
<text x="21.10" y="318.80" font-size="4.3" >37</text>
<text x="21.10" y="324.70" font-size="6.3" font-weight="bold" stroke="#000" stroke-width="0.15">Rb</text>
<rect x="35.88" y="314.30" width="14.80" height="15.50" fill="#685eb3"/>
<text x="37.18" y="318.80" font-size="4.3" >38</text>
<text x="37.18" y="324.70" font-size="6.3" font-weight="bold" stroke="#000" stroke-width="0.15">Sr</text>
<rect x="51.96" y="314.30" width="14.80" height="15.50" fill="#685eb3"/>
<text x="53.26" y="318.80" font-size="4.3" >39</text>
<text x="53.26" y="324.70" font-size="6.3" font-weight="bold" stroke="#000" stroke-width="0.15">Y</text>
<rect x="68.04" y="314.30" width="14.80" height="15.50" fill="#685eb3"/>
<text x="69.34" y="318.80" font-size="4.3" >40</text>
<text x="69.34" y="324.70" font-size="6.3" font-weight="bold" stroke="#000" stroke-width="0.15">Zr</text>
<rect x="84.12" y="314.30" width="14.80" height="15.50" fill="#685eb3"/>
<text x="85.42" y="318.80" font-size="4.3" >41</text>
<text x="85.42" y="324.70" font-size="6.3" font-weight="bold" stroke="#000" stroke-width="0.15">Nb</text>
<rect x="100.20" y="314.30" width="14.80" height="15.50" fill="#c46dbd"/>
<text x="101.50" y="318.80" font-size="4.3" >42</text>
<text x="101.50" y="324.70" font-size="6.3" font-weight="bold" stroke="#000" stroke-width="0.15">Mo</text>
<rect x="116.28" y="314.30" width="14.80" height="15.50" fill="#685eb3"/>
<text x="117.58" y="318.80" font-size="4.3" >43</text>
<text x="117.58" y="324.70" font-size="6.3" font-weight="bold" stroke="#000" stroke-width="0.15">Tc</text>
<rect x="132.36" y="314.30" width="14.80" height="15.50" fill="#685eb3"/>
<text x="133.66" y="318.80" font-size="4.3" >44</text>
<text x="133.66" y="324.70" font-size="6.3" font-weight="bold" stroke="#000" stroke-width="0.15">Ru</text>
<rect x="148.44" y="314.30" width="14.80" height="15.50" fill="#685eb3"/>
<text x="149.74" y="318.80" font-size="4.3" >45</text>
<text x="149.74" y="324.70" font-size="6.3" font-weight="bold" stroke="#000" stroke-width="0.15">Rh</text>
<rect x="164.52" y="314.30" width="14.80" height="15.50" fill="#685eb3"/>
<text x="165.82" y="318.80" font-size="4.3" >46</text>
<text x="165.82" y="324.70" font-size="6.3" font-weight="bold" stroke="#000" stroke-width="0.15">Pd</text>
<rect x="180.60" y="314.30" width="14.80" height="15.50" fill="#685eb3"/>
<text x="181.90" y="318.80" font-size="4.3" >47</text>
<text x="181.90" y="324.70" font-size="6.3" font-weight="bold" stroke="#000" stroke-width="0.15">Ag</text>
<rect x="196.68" y="314.30" width="14.80" height="15.50" fill="#685eb3"/>
<text x="197.98" y="318.80" font-size="4.3" >48</text>
<text x="197.98" y="324.70" font-size="6.3" font-weight="bold" stroke="#000" stroke-width="0.15">Cd</text>
<rect x="212.76" y="314.30" width="14.80" height="15.50" fill="#685eb3"/>
<text x="214.06" y="318.80" font-size="4.3" >49</text>
<text x="214.06" y="324.70" font-size="6.3" font-weight="bold" stroke="#000" stroke-width="0.15">In</text>
<rect x="228.84" y="314.30" width="14.80" height="15.50" fill="#685eb3"/>
<text x="230.14" y="318.80" font-size="4.3" >50</text>
<text x="230.14" y="324.70" font-size="6.3" font-weight="bold" stroke="#000" stroke-width="0.15">Sn</text>
<rect x="244.92" y="314.30" width="14.80" height="15.50" fill="#785cbb"/>
<text x="246.22" y="318.80" font-size="4.3" >51</text>
<text x="246.22" y="324.70" font-size="6.3" font-weight="bold" stroke="#000" stroke-width="0.15">Sb</text>
<rect x="261.00" y="314.30" width="14.80" height="15.50" fill="#b05dc5"/>
<text x="262.30" y="318.80" font-size="4.3" >52</text>
<text x="262.30" y="324.70" font-size="6.3" font-weight="bold" stroke="#000" stroke-width="0.15">Te</text>
<rect x="277.08" y="314.30" width="14.80" height="15.50" fill="#775cba"/>
<text x="278.38" y="318.80" font-size="4.3" >53</text>
<text x="278.38" y="324.70" font-size="6.3" font-weight="bold" stroke="#000" stroke-width="0.15">I</text>
<rect x="293.16" y="314.30" width="14.80" height="15.50" fill="#e28da3"/>
<text x="294.46" y="318.80" font-size="4.3" >54</text>
<text x="294.46" y="324.70" font-size="6.3" font-weight="bold" stroke="#000" stroke-width="0.15">Xe</text>
<rect x="19.80" y="331.60" width="14.80" height="15.50" fill="#685eb3"/>
<text x="21.10" y="336.10" font-size="4.3" >55</text>
<text x="21.10" y="342.00" font-size="6.3" font-weight="bold" stroke="#000" stroke-width="0.15">Cs</text>
<rect x="35.88" y="331.60" width="14.80" height="15.50" fill="#685eb3"/>
<text x="37.18" y="336.10" font-size="4.3" >56</text>
<text x="37.18" y="342.00" font-size="6.3" font-weight="bold" stroke="#000" stroke-width="0.15">Ba</text>
<rect x="51.96" y="331.60" width="14.80" height="15.50" fill="#685eb3"/>
<text x="53.26" y="336.10" font-size="4.3" >71</text>
<text x="53.26" y="342.00" font-size="6.3" font-weight="bold" stroke="#000" stroke-width="0.15">Lu</text>
<rect x="68.04" y="331.60" width="14.80" height="15.50" fill="#685eb3"/>
<text x="69.34" y="336.10" font-size="4.3" >72</text>
<text x="69.34" y="342.00" font-size="6.3" font-weight="bold" stroke="#000" stroke-width="0.15">Hf</text>
<rect x="84.12" y="331.60" width="14.80" height="15.50" fill="#685eb3"/>
<text x="85.42" y="336.10" font-size="4.3" >73</text>
<text x="85.42" y="342.00" font-size="6.3" font-weight="bold" stroke="#000" stroke-width="0.15">Ta</text>
<rect x="100.20" y="331.60" width="14.80" height="15.50" fill="#d37cb1"/>
<text x="101.50" y="336.10" font-size="4.3" >74</text>
<text x="101.50" y="342.00" font-size="6.3" font-weight="bold" stroke="#000" stroke-width="0.15">W</text>
<rect x="116.28" y="331.60" width="14.80" height="15.50" fill="#745db9"/>
<text x="117.58" y="336.10" font-size="4.3" >75</text>
<text x="117.58" y="342.00" font-size="6.3" font-weight="bold" stroke="#000" stroke-width="0.15">Re</text>
<rect x="132.36" y="331.60" width="14.80" height="15.50" fill="#685eb3"/>
<text x="133.66" y="336.10" font-size="4.3" >76</text>
<text x="133.66" y="342.00" font-size="6.3" font-weight="bold" stroke="#000" stroke-width="0.15">Os</text>
<rect x="148.44" y="331.60" width="14.80" height="15.50" fill="#685eb3"/>
<text x="149.74" y="336.10" font-size="4.3" >77</text>
<text x="149.74" y="342.00" font-size="6.3" font-weight="bold" stroke="#000" stroke-width="0.15">Ir</text>
<rect x="164.52" y="331.60" width="14.80" height="15.50" fill="#685eb3"/>
<text x="165.82" y="336.10" font-size="4.3" >78</text>
<text x="165.82" y="342.00" font-size="6.3" font-weight="bold" stroke="#000" stroke-width="0.15">Pt</text>
<rect x="180.60" y="331.60" width="14.80" height="15.50" fill="#725db8"/>
<text x="181.90" y="336.10" font-size="4.3" >79</text>
<text x="181.90" y="342.00" font-size="6.3" font-weight="bold" stroke="#000" stroke-width="0.15">Au</text>
<rect x="196.68" y="331.60" width="14.80" height="15.50" fill="#685eb3"/>
<text x="197.98" y="336.10" font-size="4.3" >80</text>
<text x="197.98" y="342.00" font-size="6.3" font-weight="bold" stroke="#000" stroke-width="0.15">Hg</text>
<rect x="212.76" y="331.60" width="14.80" height="15.50" fill="#685eb3"/>
<text x="214.06" y="336.10" font-size="4.3" >81</text>
<text x="214.06" y="342.00" font-size="6.3" font-weight="bold" stroke="#000" stroke-width="0.15">Tl</text>
<rect x="228.84" y="331.60" width="14.80" height="15.50" fill="#685eb3"/>
<text x="230.14" y="336.10" font-size="4.3" >82</text>
<text x="230.14" y="342.00" font-size="6.3" font-weight="bold" stroke="#000" stroke-width="0.15">Pb</text>
<rect x="244.92" y="331.60" width="14.80" height="15.50" fill="#725db8"/>
<text x="246.22" y="336.10" font-size="4.3" >83</text>
<text x="246.22" y="342.00" font-size="6.3" font-weight="bold" stroke="#000" stroke-width="0.15">Bi</text>
<rect x="261.00" y="331.60" width="14.80" height="15.50" fill="#6f5db7"/>
<text x="262.30" y="336.10" font-size="4.3" >84</text>
<text x="262.30" y="342.00" font-size="6.3" font-weight="bold" stroke="#000" stroke-width="0.15">Po</text>
<rect x="277.08" y="331.60" width="14.80" height="15.50" fill="#685eb3"/>
<text x="278.38" y="336.10" font-size="4.3" >85</text>
<text x="278.38" y="342.00" font-size="6.3" font-weight="bold" stroke="#000" stroke-width="0.15">At</text>
<rect x="293.16" y="331.60" width="14.80" height="15.50" fill="#685eb3"/>
<text x="294.46" y="336.10" font-size="4.3" >86</text>
<text x="294.46" y="342.00" font-size="6.3" font-weight="bold" stroke="#000" stroke-width="0.15">Rn</text>
<rect x="19.80" y="348.90" width="14.80" height="15.50" fill="#685eb3"/>
<text x="21.10" y="353.40" font-size="4.3" >87</text>
<text x="21.10" y="359.30" font-size="6.3" font-weight="bold" stroke="#000" stroke-width="0.15">Fr</text>
<rect x="35.88" y="348.90" width="14.80" height="15.50" fill="#685eb3"/>
<text x="37.18" y="353.40" font-size="4.3" >88</text>
<text x="37.18" y="359.30" font-size="6.3" font-weight="bold" stroke="#000" stroke-width="0.15">Ra</text>
<rect x="51.96" y="348.90" width="14.80" height="15.50" fill="#d9d9d9"/>
<text x="53.26" y="353.40" font-size="4.3" >103</text>
<text x="53.26" y="359.30" font-size="6.3" font-weight="bold" stroke="#000" stroke-width="0.15">Lr</text>
<rect x="68.04" y="348.90" width="14.80" height="15.50" fill="#d9d9d9"/>
<text x="69.34" y="353.40" font-size="4.3" >104</text>
<text x="69.34" y="359.30" font-size="6.3" font-weight="bold" stroke="#000" stroke-width="0.15">Rf</text>
<rect x="84.12" y="348.90" width="14.80" height="15.50" fill="#d9d9d9"/>
<text x="85.42" y="353.40" font-size="4.3" >105</text>
<text x="85.42" y="359.30" font-size="6.3" font-weight="bold" stroke="#000" stroke-width="0.15">Db</text>
<rect x="100.20" y="348.90" width="14.80" height="15.50" fill="#d9d9d9"/>
<text x="101.50" y="353.40" font-size="4.3" >106</text>
<text x="101.50" y="359.30" font-size="6.3" font-weight="bold" stroke="#000" stroke-width="0.15">Sg</text>
<rect x="116.28" y="348.90" width="14.80" height="15.50" fill="#d9d9d9"/>
<text x="117.58" y="353.40" font-size="4.3" >107</text>
<text x="117.58" y="359.30" font-size="6.3" font-weight="bold" stroke="#000" stroke-width="0.15">Bh</text>
<rect x="132.36" y="348.90" width="14.80" height="15.50" fill="#d9d9d9"/>
<text x="133.66" y="353.40" font-size="4.3" >108</text>
<text x="133.66" y="359.30" font-size="6.3" font-weight="bold" stroke="#000" stroke-width="0.15">Hs</text>
<rect x="148.44" y="348.90" width="14.80" height="15.50" fill="#d9d9d9"/>
<text x="149.74" y="353.40" font-size="4.3" >109</text>
<text x="149.74" y="359.30" font-size="6.3" font-weight="bold" stroke="#000" stroke-width="0.15">Mt</text>
<rect x="164.52" y="348.90" width="14.80" height="15.50" fill="#d9d9d9"/>
<text x="165.82" y="353.40" font-size="4.3" >110</text>
<text x="165.82" y="359.30" font-size="6.3" font-weight="bold" stroke="#000" stroke-width="0.15">Ds</text>
<rect x="180.60" y="348.90" width="14.80" height="15.50" fill="#d9d9d9"/>
<text x="181.90" y="353.40" font-size="4.3" >111</text>
<text x="181.90" y="359.30" font-size="6.3" font-weight="bold" stroke="#000" stroke-width="0.15">Rg</text>
<rect x="196.68" y="348.90" width="14.80" height="15.50" fill="#d9d9d9"/>
<text x="197.98" y="353.40" font-size="4.3" >112</text>
<text x="197.98" y="359.30" font-size="6.3" font-weight="bold" stroke="#000" stroke-width="0.15">Cn</text>
<rect x="212.76" y="348.90" width="14.80" height="15.50" fill="#d9d9d9"/>
<text x="214.06" y="353.40" font-size="4.3" >113</text>
<text x="214.06" y="359.30" font-size="6.3" font-weight="bold" stroke="#000" stroke-width="0.15">Nh</text>
<rect x="228.84" y="348.90" width="14.80" height="15.50" fill="#d9d9d9"/>
<text x="230.14" y="353.40" font-size="4.3" >114</text>
<text x="230.14" y="359.30" font-size="6.3" font-weight="bold" stroke="#000" stroke-width="0.15">Fl</text>
<rect x="244.92" y="348.90" width="14.80" height="15.50" fill="#d9d9d9"/>
<text x="246.22" y="353.40" font-size="4.3" >115</text>
<text x="246.22" y="359.30" font-size="6.3" font-weight="bold" stroke="#000" stroke-width="0.15">Mc</text>
<rect x="261.00" y="348.90" width="14.80" height="15.50" fill="#d9d9d9"/>
<text x="262.30" y="353.40" font-size="4.3" >116</text>
<text x="262.30" y="359.30" font-size="6.3" font-weight="bold" stroke="#000" stroke-width="0.15">Lv</text>
<rect x="277.08" y="348.90" width="14.80" height="15.50" fill="#d9d9d9"/>
<text x="278.38" y="353.40" font-size="4.3" >117</text>
<text x="278.38" y="359.30" font-size="6.3" font-weight="bold" stroke="#000" stroke-width="0.15">Ts</text>
<rect x="293.16" y="348.90" width="14.80" height="15.50" fill="#d9d9d9"/>
<text x="294.46" y="353.40" font-size="4.3" >118</text>
<text x="294.46" y="359.30" font-size="6.3" font-weight="bold" stroke="#000" stroke-width="0.15">Og</text>
<rect x="68.04" y="383.20" width="14.80" height="15.50" fill="#685eb3"/>
<text x="69.34" y="387.70" font-size="4.3" >57</text>
<text x="69.34" y="393.60" font-size="6.3" font-weight="bold" stroke="#000" stroke-width="0.15">La</text>
<rect x="84.12" y="383.20" width="14.80" height="15.50" fill="#6e5db6"/>
<text x="85.42" y="387.70" font-size="4.3" >58</text>
<text x="85.42" y="393.60" font-size="6.3" font-weight="bold" stroke="#000" stroke-width="0.15">Ce</text>
<rect x="100.20" y="383.20" width="14.80" height="15.50" fill="#685eb3"/>
<text x="101.50" y="387.70" font-size="4.3" >59</text>
<text x="101.50" y="393.60" font-size="6.3" font-weight="bold" stroke="#000" stroke-width="0.15">Pr</text>
<rect x="116.28" y="383.20" width="14.80" height="15.50" fill="#685eb3"/>
<text x="117.58" y="387.70" font-size="4.3" >60</text>
<text x="117.58" y="393.60" font-size="6.3" font-weight="bold" stroke="#000" stroke-width="0.15">Nd</text>
<rect x="132.36" y="383.20" width="14.80" height="15.50" fill="#6e5db6"/>
<text x="133.66" y="387.70" font-size="4.3" >61</text>
<text x="133.66" y="393.60" font-size="6.3" font-weight="bold" stroke="#000" stroke-width="0.15">Pm</text>
<rect x="148.44" y="383.20" width="14.80" height="15.50" fill="#725db8"/>
<text x="149.74" y="387.70" font-size="4.3" >62</text>
<text x="149.74" y="393.60" font-size="6.3" font-weight="bold" stroke="#000" stroke-width="0.15">Sm</text>
<rect x="164.52" y="383.20" width="14.80" height="15.50" fill="#785cbb"/>
<text x="165.82" y="387.70" font-size="4.3" >63</text>
<text x="165.82" y="393.60" font-size="6.3" font-weight="bold" stroke="#000" stroke-width="0.15">Eu</text>
<rect x="180.60" y="383.20" width="14.80" height="15.50" fill="#a35ac7"/>
<text x="181.90" y="387.70" font-size="4.3" >64</text>
<text x="181.90" y="393.60" font-size="6.3" font-weight="bold" stroke="#000" stroke-width="0.15">Gd</text>
<rect x="196.68" y="383.20" width="14.80" height="15.50" fill="#725db8"/>
<text x="197.98" y="387.70" font-size="4.3" >65</text>
<text x="197.98" y="393.60" font-size="6.3" font-weight="bold" stroke="#000" stroke-width="0.15">Tb</text>
<rect x="212.76" y="383.20" width="14.80" height="15.50" fill="#685eb3"/>
<text x="214.06" y="387.70" font-size="4.3" >66</text>
<text x="214.06" y="393.60" font-size="6.3" font-weight="bold" stroke="#000" stroke-width="0.15">Dy</text>
<rect x="228.84" y="383.20" width="14.80" height="15.50" fill="#685eb3"/>
<text x="230.14" y="387.70" font-size="4.3" >67</text>
<text x="230.14" y="393.60" font-size="6.3" font-weight="bold" stroke="#000" stroke-width="0.15">Ho</text>
<rect x="244.92" y="383.20" width="14.80" height="15.50" fill="#685eb3"/>
<text x="246.22" y="387.70" font-size="4.3" >68</text>
<text x="246.22" y="393.60" font-size="6.3" font-weight="bold" stroke="#000" stroke-width="0.15">Er</text>
<rect x="261.00" y="383.20" width="14.80" height="15.50" fill="#685eb3"/>
<text x="262.30" y="387.70" font-size="4.3" >69</text>
<text x="262.30" y="393.60" font-size="6.3" font-weight="bold" stroke="#000" stroke-width="0.15">Tm</text>
<rect x="277.08" y="383.20" width="14.80" height="15.50" fill="#685eb3"/>
<text x="278.38" y="387.70" font-size="4.3" >70</text>
<text x="278.38" y="393.60" font-size="6.3" font-weight="bold" stroke="#000" stroke-width="0.15">Yb</text>
<rect x="68.04" y="400.40" width="14.80" height="15.50" fill="#685eb3"/>
<text x="69.34" y="404.90" font-size="4.3" >89</text>
<text x="69.34" y="410.80" font-size="6.3" font-weight="bold" stroke="#000" stroke-width="0.15">Ac</text>
<rect x="84.12" y="400.40" width="14.80" height="15.50" fill="#6e5db6"/>
<text x="85.42" y="404.90" font-size="4.3" >90</text>
<text x="85.42" y="410.80" font-size="6.3" font-weight="bold" stroke="#000" stroke-width="0.15">Th</text>
<rect x="100.20" y="400.40" width="14.80" height="15.50" fill="#6e5db6"/>
<text x="101.50" y="404.90" font-size="4.3" >91</text>
<text x="101.50" y="410.80" font-size="6.3" font-weight="bold" stroke="#000" stroke-width="0.15">Pa</text>
<rect x="116.28" y="400.40" width="14.80" height="15.50" fill="#b25ec5"/>
<text x="117.58" y="404.90" font-size="4.3" >92</text>
<text x="117.58" y="410.80" font-size="6.3" font-weight="bold" stroke="#000" stroke-width="0.15">U</text>
<rect x="132.36" y="400.40" width="14.80" height="15.50" fill="#e591a0"/>
<text x="133.66" y="404.90" font-size="4.3" >93</text>
<text x="133.66" y="410.80" font-size="6.3" font-weight="bold" stroke="#000" stroke-width="0.15">Np</text>
<rect x="148.44" y="400.40" width="14.80" height="15.50" fill="#745db9"/>
<text x="149.74" y="404.90" font-size="4.3" >94</text>
<text x="149.74" y="410.80" font-size="6.3" font-weight="bold" stroke="#000" stroke-width="0.15">Pu</text>
<rect x="164.52" y="400.40" width="14.80" height="15.50" fill="#d9d9d9"/>
<text x="165.82" y="404.90" font-size="4.3" >95</text>
<text x="165.82" y="410.80" font-size="6.3" font-weight="bold" stroke="#000" stroke-width="0.15">Am</text>
<rect x="180.60" y="400.40" width="14.80" height="15.50" fill="#d9d9d9"/>
<text x="181.90" y="404.90" font-size="4.3" >96</text>
<text x="181.90" y="410.80" font-size="6.3" font-weight="bold" stroke="#000" stroke-width="0.15">Cm</text>
<rect x="196.68" y="400.40" width="14.80" height="15.50" fill="#d9d9d9"/>
<text x="197.98" y="404.90" font-size="4.3" >97</text>
<text x="197.98" y="410.80" font-size="6.3" font-weight="bold" stroke="#000" stroke-width="0.15">Bk</text>
<rect x="212.76" y="400.40" width="14.80" height="15.50" fill="#d9d9d9"/>
<text x="214.06" y="404.90" font-size="4.3" >98</text>
<text x="214.06" y="410.80" font-size="6.3" font-weight="bold" stroke="#000" stroke-width="0.15">Cf</text>
<rect x="228.84" y="400.40" width="14.80" height="15.50" fill="#d9d9d9"/>
<text x="230.14" y="404.90" font-size="4.3" >99</text>
<text x="230.14" y="410.80" font-size="6.3" font-weight="bold" stroke="#000" stroke-width="0.15">Es</text>
<rect x="244.92" y="400.40" width="14.80" height="15.50" fill="#d9d9d9"/>
<text x="246.22" y="404.90" font-size="4.3" >100</text>
<text x="246.22" y="410.80" font-size="6.3" font-weight="bold" stroke="#000" stroke-width="0.15">Fm</text>
<rect x="261.00" y="400.40" width="14.80" height="15.50" fill="#d9d9d9"/>
<text x="262.30" y="404.90" font-size="4.3" >101</text>
<text x="262.30" y="410.80" font-size="6.3" font-weight="bold" stroke="#000" stroke-width="0.15">Md</text>
<rect x="277.08" y="400.40" width="14.80" height="15.50" fill="#d9d9d9"/>
<text x="278.38" y="404.90" font-size="4.3" >102</text>
<text x="278.38" y="410.80" font-size="6.3" font-weight="bold" stroke="#000" stroke-width="0.15">No</text></g>
<g id="pd"><rect x="368.00" y="244.80" width="14.80" height="15.50" fill="#685eb3"/>
<text x="369.30" y="249.20" font-size="4.3" >1</text>
<text x="369.30" y="254.80" font-size="6.3" font-weight="bold" stroke="#000" stroke-width="0.15">H</text>
<rect x="641.36" y="244.80" width="14.80" height="15.50" fill="#685eb3"/>
<text x="642.66" y="249.20" font-size="4.3" >2</text>
<text x="642.66" y="254.80" font-size="6.3" font-weight="bold" stroke="#000" stroke-width="0.15">He</text>
<rect x="368.00" y="262.10" width="14.80" height="15.50" fill="#685eb3"/>
<text x="369.30" y="266.50" font-size="4.3" >3</text>
<text x="369.30" y="272.10" font-size="6.3" font-weight="bold" stroke="#000" stroke-width="0.15">Li</text>
<rect x="384.08" y="262.10" width="14.80" height="15.50" fill="#685eb3"/>
<text x="385.38" y="266.50" font-size="4.3" >4</text>
<text x="385.38" y="272.10" font-size="6.3" font-weight="bold" stroke="#000" stroke-width="0.15">Be</text>
<rect x="560.96" y="262.10" width="14.80" height="15.50" fill="#685eb3"/>
<text x="562.26" y="266.50" font-size="4.3" >5</text>
<text x="562.26" y="272.10" font-size="6.3" font-weight="bold" stroke="#000" stroke-width="0.15">B</text>
<rect x="577.04" y="262.10" width="14.80" height="15.50" fill="#685eb3"/>
<text x="578.34" y="266.50" font-size="4.3" >6</text>
<text x="578.34" y="272.10" font-size="6.3" font-weight="bold" stroke="#000" stroke-width="0.15">C</text>
<rect x="593.12" y="262.10" width="14.80" height="15.50" fill="#745db9"/>
<text x="594.42" y="266.50" font-size="4.3" >7</text>
<text x="594.42" y="272.10" font-size="6.3" font-weight="bold" stroke="#000" stroke-width="0.15">N</text>
<rect x="609.20" y="262.10" width="14.80" height="15.50" fill="#b05dc5"/>
<text x="610.50" y="266.50" font-size="4.3" >8</text>
<text x="610.50" y="272.10" font-size="6.3" font-weight="bold" stroke="#000" stroke-width="0.15">O</text>
<rect x="625.28" y="262.10" width="14.80" height="15.50" fill="#a059c7"/>
<text x="626.58" y="266.50" font-size="4.3" >9</text>
<text x="626.58" y="272.10" font-size="6.3" font-weight="bold" stroke="#000" stroke-width="0.15">F</text>
<rect x="641.36" y="262.10" width="14.80" height="15.50" fill="#685eb3"/>
<text x="642.66" y="266.50" font-size="4.3" >10</text>
<text x="642.66" y="272.10" font-size="6.3" font-weight="bold" stroke="#000" stroke-width="0.15">Ne</text>
<rect x="368.00" y="279.40" width="14.80" height="15.50" fill="#685eb3"/>
<text x="369.30" y="283.80" font-size="4.3" >11</text>
<text x="369.30" y="289.40" font-size="6.3" font-weight="bold" stroke="#000" stroke-width="0.15">Na</text>
<rect x="384.08" y="279.40" width="14.80" height="15.50" fill="#685eb3"/>
<text x="385.38" y="283.80" font-size="4.3" >12</text>
<text x="385.38" y="289.40" font-size="6.3" font-weight="bold" stroke="#000" stroke-width="0.15">Mg</text>
<rect x="560.96" y="279.40" width="14.80" height="15.50" fill="#685eb3"/>
<text x="562.26" y="283.80" font-size="4.3" >13</text>
<text x="562.26" y="289.40" font-size="6.3" font-weight="bold" stroke="#000" stroke-width="0.15">Al</text>
<rect x="577.04" y="279.40" width="14.80" height="15.50" fill="#685eb3"/>
<text x="578.34" y="283.80" font-size="4.3" >14</text>
<text x="578.34" y="289.40" font-size="6.3" font-weight="bold" stroke="#000" stroke-width="0.15">Si</text>
<rect x="593.12" y="279.40" width="14.80" height="15.50" fill="#685eb3"/>
<text x="594.42" y="283.80" font-size="4.3" >15</text>
<text x="594.42" y="289.40" font-size="6.3" font-weight="bold" stroke="#000" stroke-width="0.15">P</text>
<rect x="609.20" y="279.40" width="14.80" height="15.50" fill="#725db8"/>
<text x="610.50" y="283.80" font-size="4.3" >16</text>
<text x="610.50" y="289.40" font-size="6.3" font-weight="bold" stroke="#000" stroke-width="0.15">S</text>
<rect x="625.28" y="279.40" width="14.80" height="15.50" fill="#745db9"/>
<text x="626.58" y="283.80" font-size="4.3" >17</text>
<text x="626.58" y="289.40" font-size="6.3" font-weight="bold" stroke="#000" stroke-width="0.15">Cl</text>
<rect x="641.36" y="279.40" width="14.80" height="15.50" fill="#685eb3"/>
<text x="642.66" y="283.80" font-size="4.3" >18</text>
<text x="642.66" y="289.40" font-size="6.3" font-weight="bold" stroke="#000" stroke-width="0.15">Ar</text>
<rect x="368.00" y="296.70" width="14.80" height="15.50" fill="#685eb3"/>
<text x="369.30" y="301.10" font-size="4.3" >19</text>
<text x="369.30" y="306.70" font-size="6.3" font-weight="bold" stroke="#000" stroke-width="0.15">K</text>
<rect x="384.08" y="296.70" width="14.80" height="15.50" fill="#685eb3"/>
<text x="385.38" y="301.10" font-size="4.3" >20</text>
<text x="385.38" y="306.70" font-size="6.3" font-weight="bold" stroke="#000" stroke-width="0.15">Ca</text>
<rect x="400.16" y="296.70" width="14.80" height="15.50" fill="#685eb3"/>
<text x="401.46" y="301.10" font-size="4.3" >21</text>
<text x="401.46" y="306.70" font-size="6.3" font-weight="bold" stroke="#000" stroke-width="0.15">Sc</text>
<rect x="416.24" y="296.70" width="14.80" height="15.50" fill="#685eb3"/>
<text x="417.54" y="301.10" font-size="4.3" >22</text>
<text x="417.54" y="306.70" font-size="6.3" font-weight="bold" stroke="#000" stroke-width="0.15">Ti</text>
<rect x="432.32" y="296.70" width="14.80" height="15.50" fill="#de88a7"/>
<text x="433.62" y="301.10" font-size="4.3" >23</text>
<text x="433.62" y="306.70" font-size="6.3" font-weight="bold" stroke="#000" stroke-width="0.15">V</text>
<rect x="448.40" y="296.70" width="14.80" height="15.50" fill="#b964c3"/>
<text x="449.70" y="301.10" font-size="4.3" >24</text>
<text x="449.70" y="306.70" font-size="6.3" font-weight="bold" stroke="#000" stroke-width="0.15">Cr</text>
<rect x="464.48" y="296.70" width="14.80" height="15.50" fill="#b762c4"/>
<text x="465.78" y="301.10" font-size="4.3" >25</text>
<text x="465.78" y="306.70" font-size="6.3" font-weight="bold" stroke="#000" stroke-width="0.15">Mn</text>
<rect x="480.56" y="296.70" width="14.80" height="15.50" fill="#a85ac7"/>
<text x="481.86" y="301.10" font-size="4.3" >26</text>
<text x="481.86" y="306.70" font-size="6.3" font-weight="bold" stroke="#000" stroke-width="0.15">Fe</text>
<rect x="496.64" y="296.70" width="14.80" height="15.50" fill="#8c5bc2"/>
<text x="497.94" y="301.10" font-size="4.3" >27</text>
<text x="497.94" y="306.70" font-size="6.3" font-weight="bold" stroke="#000" stroke-width="0.15">Co</text>
<rect x="512.72" y="296.70" width="14.80" height="15.50" fill="#9959c6"/>
<text x="514.02" y="301.10" font-size="4.3" >28</text>
<text x="514.02" y="306.70" font-size="6.3" font-weight="bold" stroke="#000" stroke-width="0.15">Ni</text>
<rect x="528.80" y="296.70" width="14.80" height="15.50" fill="#6e5db6"/>
<text x="530.10" y="301.10" font-size="4.3" >29</text>
<text x="530.10" y="306.70" font-size="6.3" font-weight="bold" stroke="#000" stroke-width="0.15">Cu</text>
<rect x="544.88" y="296.70" width="14.80" height="15.50" fill="#685eb3"/>
<text x="546.18" y="301.10" font-size="4.3" >30</text>
<text x="546.18" y="306.70" font-size="6.3" font-weight="bold" stroke="#000" stroke-width="0.15">Zn</text>
<rect x="560.96" y="296.70" width="14.80" height="15.50" fill="#685eb3"/>
<text x="562.26" y="301.10" font-size="4.3" >31</text>
<text x="562.26" y="306.70" font-size="6.3" font-weight="bold" stroke="#000" stroke-width="0.15">Ga</text>
<rect x="577.04" y="296.70" width="14.80" height="15.50" fill="#685eb3"/>
<text x="578.34" y="301.10" font-size="4.3" >32</text>
<text x="578.34" y="306.70" font-size="6.3" font-weight="bold" stroke="#000" stroke-width="0.15">Ge</text>
<rect x="593.12" y="296.70" width="14.80" height="15.50" fill="#685eb3"/>
<text x="594.42" y="301.10" font-size="4.3" >33</text>
<text x="594.42" y="306.70" font-size="6.3" font-weight="bold" stroke="#000" stroke-width="0.15">As</text>
<rect x="609.20" y="296.70" width="14.80" height="15.50" fill="#6e5db6"/>
<text x="610.50" y="301.10" font-size="4.3" >34</text>
<text x="610.50" y="306.70" font-size="6.3" font-weight="bold" stroke="#000" stroke-width="0.15">Se</text>
<rect x="625.28" y="296.70" width="14.80" height="15.50" fill="#785cbb"/>
<text x="626.58" y="301.10" font-size="4.3" >35</text>
<text x="626.58" y="306.70" font-size="6.3" font-weight="bold" stroke="#000" stroke-width="0.15">Br</text>
<rect x="641.36" y="296.70" width="14.80" height="15.50" fill="#685eb3"/>
<text x="642.66" y="301.10" font-size="4.3" >36</text>
<text x="642.66" y="306.70" font-size="6.3" font-weight="bold" stroke="#000" stroke-width="0.15">Kr</text>
<rect x="368.00" y="314.00" width="14.80" height="15.50" fill="#685eb3"/>
<text x="369.30" y="318.40" font-size="4.3" >37</text>
<text x="369.30" y="324.00" font-size="6.3" font-weight="bold" stroke="#000" stroke-width="0.15">Rb</text>
<rect x="384.08" y="314.00" width="14.80" height="15.50" fill="#685eb3"/>
<text x="385.38" y="318.40" font-size="4.3" >38</text>
<text x="385.38" y="324.00" font-size="6.3" font-weight="bold" stroke="#000" stroke-width="0.15">Sr</text>
<rect x="400.16" y="314.00" width="14.80" height="15.50" fill="#685eb3"/>
<text x="401.46" y="318.40" font-size="4.3" >39</text>
<text x="401.46" y="324.00" font-size="6.3" font-weight="bold" stroke="#000" stroke-width="0.15">Y</text>
<rect x="416.24" y="314.00" width="14.80" height="15.50" fill="#685eb3"/>
<text x="417.54" y="318.40" font-size="4.3" >40</text>
<text x="417.54" y="324.00" font-size="6.3" font-weight="bold" stroke="#000" stroke-width="0.15">Zr</text>
<rect x="432.32" y="314.00" width="14.80" height="15.50" fill="#685eb3"/>
<text x="433.62" y="318.40" font-size="4.3" >41</text>
<text x="433.62" y="324.00" font-size="6.3" font-weight="bold" stroke="#000" stroke-width="0.15">Nb</text>
<rect x="448.40" y="314.00" width="14.80" height="15.50" fill="#e6939e"/>
<text x="449.70" y="318.40" font-size="4.3" >42</text>
<text x="449.70" y="324.00" font-size="6.3" font-weight="bold" stroke="#000" stroke-width="0.15">Mo</text>
<rect x="464.48" y="314.00" width="14.80" height="15.50" fill="#685eb3"/>
<text x="465.78" y="318.40" font-size="4.3" >43</text>
<text x="465.78" y="324.00" font-size="6.3" font-weight="bold" stroke="#000" stroke-width="0.15">Tc</text>
<rect x="480.56" y="314.00" width="14.80" height="15.50" fill="#685eb3"/>
<text x="481.86" y="318.40" font-size="4.3" >44</text>
<text x="481.86" y="324.00" font-size="6.3" font-weight="bold" stroke="#000" stroke-width="0.15">Ru</text>
<rect x="496.64" y="314.00" width="14.80" height="15.50" fill="#685eb3"/>
<text x="497.94" y="318.40" font-size="4.3" >45</text>
<text x="497.94" y="324.00" font-size="6.3" font-weight="bold" stroke="#000" stroke-width="0.15">Rh</text>
<rect x="512.72" y="314.00" width="14.80" height="15.50" fill="#685eb3"/>
<text x="514.02" y="318.40" font-size="4.3" >46</text>
<text x="514.02" y="324.00" font-size="6.3" font-weight="bold" stroke="#000" stroke-width="0.15">Pd</text>
<rect x="528.80" y="314.00" width="14.80" height="15.50" fill="#685eb3"/>
<text x="530.10" y="318.40" font-size="4.3" >47</text>
<text x="530.10" y="324.00" font-size="6.3" font-weight="bold" stroke="#000" stroke-width="0.15">Ag</text>
<rect x="544.88" y="314.00" width="14.80" height="15.50" fill="#685eb3"/>
<text x="546.18" y="318.40" font-size="4.3" >48</text>
<text x="546.18" y="324.00" font-size="6.3" font-weight="bold" stroke="#000" stroke-width="0.15">Cd</text>
<rect x="560.96" y="314.00" width="14.80" height="15.50" fill="#685eb3"/>
<text x="562.26" y="318.40" font-size="4.3" >49</text>
<text x="562.26" y="324.00" font-size="6.3" font-weight="bold" stroke="#000" stroke-width="0.15">In</text>
<rect x="577.04" y="314.00" width="14.80" height="15.50" fill="#685eb3"/>
<text x="578.34" y="318.40" font-size="4.3" >50</text>
<text x="578.34" y="324.00" font-size="6.3" font-weight="bold" stroke="#000" stroke-width="0.15">Sn</text>
<rect x="593.12" y="314.00" width="14.80" height="15.50" fill="#685eb3"/>
<text x="594.42" y="318.40" font-size="4.3" >51</text>
<text x="594.42" y="324.00" font-size="6.3" font-weight="bold" stroke="#000" stroke-width="0.15">Sb</text>
<rect x="609.20" y="314.00" width="14.80" height="15.50" fill="#685eb3"/>
<text x="610.50" y="318.40" font-size="4.3" >52</text>
<text x="610.50" y="324.00" font-size="6.3" font-weight="bold" stroke="#000" stroke-width="0.15">Te</text>
<rect x="625.28" y="314.00" width="14.80" height="15.50" fill="#785cbb"/>
<text x="626.58" y="318.40" font-size="4.3" >53</text>
<text x="626.58" y="324.00" font-size="6.3" font-weight="bold" stroke="#000" stroke-width="0.15">I</text>
<rect x="641.36" y="314.00" width="14.80" height="15.50" fill="#685eb3"/>
<text x="642.66" y="318.40" font-size="4.3" >54</text>
<text x="642.66" y="324.00" font-size="6.3" font-weight="bold" stroke="#000" stroke-width="0.15">Xe</text>
<rect x="368.00" y="331.30" width="14.80" height="15.50" fill="#685eb3"/>
<text x="369.30" y="335.70" font-size="4.3" >55</text>
<text x="369.30" y="341.30" font-size="6.3" font-weight="bold" stroke="#000" stroke-width="0.15">Cs</text>
<rect x="384.08" y="331.30" width="14.80" height="15.50" fill="#685eb3"/>
<text x="385.38" y="335.70" font-size="4.3" >56</text>
<text x="385.38" y="341.30" font-size="6.3" font-weight="bold" stroke="#000" stroke-width="0.15">Ba</text>
<rect x="400.16" y="331.30" width="14.80" height="15.50" fill="#685eb3"/>
<text x="401.46" y="335.70" font-size="4.3" >71</text>
<text x="401.46" y="341.30" font-size="6.3" font-weight="bold" stroke="#000" stroke-width="0.15">Lu</text>
<rect x="416.24" y="331.30" width="14.80" height="15.50" fill="#685eb3"/>
<text x="417.54" y="335.70" font-size="4.3" >72</text>
<text x="417.54" y="341.30" font-size="6.3" font-weight="bold" stroke="#000" stroke-width="0.15">Hf</text>
<rect x="432.32" y="331.30" width="14.80" height="15.50" fill="#685eb3"/>
<text x="433.62" y="335.70" font-size="4.3" >73</text>
<text x="433.62" y="341.30" font-size="6.3" font-weight="bold" stroke="#000" stroke-width="0.15">Ta</text>
<rect x="448.40" y="331.30" width="14.80" height="15.50" fill="#f5fb6f"/>
<text x="449.70" y="335.70" font-size="4.3" >74</text>
<text x="449.70" y="341.30" font-size="6.3" font-weight="bold" stroke="#000" stroke-width="0.15">W</text>
<rect x="464.48" y="331.30" width="14.80" height="15.50" fill="#685eb3"/>
<text x="465.78" y="335.70" font-size="4.3" >75</text>
<text x="465.78" y="341.30" font-size="6.3" font-weight="bold" stroke="#000" stroke-width="0.15">Re</text>
<rect x="480.56" y="331.30" width="14.80" height="15.50" fill="#685eb3"/>
<text x="481.86" y="335.70" font-size="4.3" >76</text>
<text x="481.86" y="341.30" font-size="6.3" font-weight="bold" stroke="#000" stroke-width="0.15">Os</text>
<rect x="496.64" y="331.30" width="14.80" height="15.50" fill="#685eb3"/>
<text x="497.94" y="335.70" font-size="4.3" >77</text>
<text x="497.94" y="341.30" font-size="6.3" font-weight="bold" stroke="#000" stroke-width="0.15">Ir</text>
<rect x="512.72" y="331.30" width="14.80" height="15.50" fill="#685eb3"/>
<text x="514.02" y="335.70" font-size="4.3" >78</text>
<text x="514.02" y="341.30" font-size="6.3" font-weight="bold" stroke="#000" stroke-width="0.15">Pt</text>
<rect x="528.80" y="331.30" width="14.80" height="15.50" fill="#685eb3"/>
<text x="530.10" y="335.70" font-size="4.3" >79</text>
<text x="530.10" y="341.30" font-size="6.3" font-weight="bold" stroke="#000" stroke-width="0.15">Au</text>
<rect x="544.88" y="331.30" width="14.80" height="15.50" fill="#685eb3"/>
<text x="546.18" y="335.70" font-size="4.3" >80</text>
<text x="546.18" y="341.30" font-size="6.3" font-weight="bold" stroke="#000" stroke-width="0.15">Hg</text>
<rect x="560.96" y="331.30" width="14.80" height="15.50" fill="#685eb3"/>
<text x="562.26" y="335.70" font-size="4.3" >81</text>
<text x="562.26" y="341.30" font-size="6.3" font-weight="bold" stroke="#000" stroke-width="0.15">Tl</text>
<rect x="577.04" y="331.30" width="14.80" height="15.50" fill="#685eb3"/>
<text x="578.34" y="335.70" font-size="4.3" >82</text>
<text x="578.34" y="341.30" font-size="6.3" font-weight="bold" stroke="#000" stroke-width="0.15">Pb</text>
<rect x="593.12" y="331.30" width="14.80" height="15.50" fill="#685eb3"/>
<text x="594.42" y="335.70" font-size="4.3" >83</text>
<text x="594.42" y="341.30" font-size="6.3" font-weight="bold" stroke="#000" stroke-width="0.15">Bi</text>
<rect x="609.20" y="331.30" width="14.80" height="15.50" fill="#685eb3"/>
<text x="610.50" y="335.70" font-size="4.3" >84</text>
<text x="610.50" y="341.30" font-size="6.3" font-weight="bold" stroke="#000" stroke-width="0.15">Po</text>
<rect x="625.28" y="331.30" width="14.80" height="15.50" fill="#685eb3"/>
<text x="626.58" y="335.70" font-size="4.3" >85</text>
<text x="626.58" y="341.30" font-size="6.3" font-weight="bold" stroke="#000" stroke-width="0.15">At</text>
<rect x="641.36" y="331.30" width="14.80" height="15.50" fill="#685eb3"/>
<text x="642.66" y="335.70" font-size="4.3" >86</text>
<text x="642.66" y="341.30" font-size="6.3" font-weight="bold" stroke="#000" stroke-width="0.15">Rn</text>
<rect x="368.00" y="348.60" width="14.80" height="15.50" fill="#685eb3"/>
<text x="369.30" y="353.00" font-size="4.3" >87</text>
<text x="369.30" y="358.60" font-size="6.3" font-weight="bold" stroke="#000" stroke-width="0.15">Fr</text>
<rect x="384.08" y="348.60" width="14.80" height="15.50" fill="#685eb3"/>
<text x="385.38" y="353.00" font-size="4.3" >88</text>
<text x="385.38" y="358.60" font-size="6.3" font-weight="bold" stroke="#000" stroke-width="0.15">Ra</text>
<rect x="400.16" y="348.60" width="14.80" height="15.50" fill="#d9d9d9"/>
<text x="401.46" y="353.00" font-size="4.3" >103</text>
<text x="401.46" y="358.60" font-size="6.3" font-weight="bold" stroke="#000" stroke-width="0.15">Lr</text>
<rect x="416.24" y="348.60" width="14.80" height="15.50" fill="#d9d9d9"/>
<text x="417.54" y="353.00" font-size="4.3" >104</text>
<text x="417.54" y="358.60" font-size="6.3" font-weight="bold" stroke="#000" stroke-width="0.15">Rf</text>
<rect x="432.32" y="348.60" width="14.80" height="15.50" fill="#d9d9d9"/>
<text x="433.62" y="353.00" font-size="4.3" >105</text>
<text x="433.62" y="358.60" font-size="6.3" font-weight="bold" stroke="#000" stroke-width="0.15">Db</text>
<rect x="448.40" y="348.60" width="14.80" height="15.50" fill="#d9d9d9"/>
<text x="449.70" y="353.00" font-size="4.3" >106</text>
<text x="449.70" y="358.60" font-size="6.3" font-weight="bold" stroke="#000" stroke-width="0.15">Sg</text>
<rect x="464.48" y="348.60" width="14.80" height="15.50" fill="#d9d9d9"/>
<text x="465.78" y="353.00" font-size="4.3" >107</text>
<text x="465.78" y="358.60" font-size="6.3" font-weight="bold" stroke="#000" stroke-width="0.15">Bh</text>
<rect x="480.56" y="348.60" width="14.80" height="15.50" fill="#d9d9d9"/>
<text x="481.86" y="353.00" font-size="4.3" >108</text>
<text x="481.86" y="358.60" font-size="6.3" font-weight="bold" stroke="#000" stroke-width="0.15">Hs</text>
<rect x="496.64" y="348.60" width="14.80" height="15.50" fill="#d9d9d9"/>
<text x="497.94" y="353.00" font-size="4.3" >109</text>
<text x="497.94" y="358.60" font-size="6.3" font-weight="bold" stroke="#000" stroke-width="0.15">Mt</text>
<rect x="512.72" y="348.60" width="14.80" height="15.50" fill="#d9d9d9"/>
<text x="514.02" y="353.00" font-size="4.3" >110</text>
<text x="514.02" y="358.60" font-size="6.3" font-weight="bold" stroke="#000" stroke-width="0.15">Ds</text>
<rect x="528.80" y="348.60" width="14.80" height="15.50" fill="#d9d9d9"/>
<text x="530.10" y="353.00" font-size="4.3" >111</text>
<text x="530.10" y="358.60" font-size="6.3" font-weight="bold" stroke="#000" stroke-width="0.15">Rg</text>
<rect x="544.88" y="348.60" width="14.80" height="15.50" fill="#d9d9d9"/>
<text x="546.18" y="353.00" font-size="4.3" >112</text>
<text x="546.18" y="358.60" font-size="6.3" font-weight="bold" stroke="#000" stroke-width="0.15">Cn</text>
<rect x="560.96" y="348.60" width="14.80" height="15.50" fill="#d9d9d9"/>
<text x="562.26" y="353.00" font-size="4.3" >113</text>
<text x="562.26" y="358.60" font-size="6.3" font-weight="bold" stroke="#000" stroke-width="0.15">Nh</text>
<rect x="577.04" y="348.60" width="14.80" height="15.50" fill="#d9d9d9"/>
<text x="578.34" y="353.00" font-size="4.3" >114</text>
<text x="578.34" y="358.60" font-size="6.3" font-weight="bold" stroke="#000" stroke-width="0.15">Fl</text>
<rect x="593.12" y="348.60" width="14.80" height="15.50" fill="#d9d9d9"/>
<text x="594.42" y="353.00" font-size="4.3" >115</text>
<text x="594.42" y="358.60" font-size="6.3" font-weight="bold" stroke="#000" stroke-width="0.15">Mc</text>
<rect x="609.20" y="348.60" width="14.80" height="15.50" fill="#d9d9d9"/>
<text x="610.50" y="353.00" font-size="4.3" >116</text>
<text x="610.50" y="358.60" font-size="6.3" font-weight="bold" stroke="#000" stroke-width="0.15">Lv</text>
<rect x="625.28" y="348.60" width="14.80" height="15.50" fill="#d9d9d9"/>
<text x="626.58" y="353.00" font-size="4.3" >117</text>
<text x="626.58" y="358.60" font-size="6.3" font-weight="bold" stroke="#000" stroke-width="0.15">Ts</text>
<rect x="641.36" y="348.60" width="14.80" height="15.50" fill="#d9d9d9"/>
<text x="642.66" y="353.00" font-size="4.3" >118</text>
<text x="642.66" y="358.60" font-size="6.3" font-weight="bold" stroke="#000" stroke-width="0.15">Og</text>
<rect x="416.24" y="382.60" width="14.80" height="15.50" fill="#685eb3"/>
<text x="417.54" y="387.00" font-size="4.3" >57</text>
<text x="417.54" y="392.60" font-size="6.3" font-weight="bold" stroke="#000" stroke-width="0.15">La</text>
<rect x="432.32" y="382.60" width="14.80" height="15.50" fill="#685eb3"/>
<text x="433.62" y="387.00" font-size="4.3" >58</text>
<text x="433.62" y="392.60" font-size="6.3" font-weight="bold" stroke="#000" stroke-width="0.15">Ce</text>
<rect x="448.40" y="382.60" width="14.80" height="15.50" fill="#685eb3"/>
<text x="449.70" y="387.00" font-size="4.3" >59</text>
<text x="449.70" y="392.60" font-size="6.3" font-weight="bold" stroke="#000" stroke-width="0.15">Pr</text>
<rect x="464.48" y="382.60" width="14.80" height="15.50" fill="#685eb3"/>
<text x="465.78" y="387.00" font-size="4.3" >60</text>
<text x="465.78" y="392.60" font-size="6.3" font-weight="bold" stroke="#000" stroke-width="0.15">Nd</text>
<rect x="480.56" y="382.60" width="14.80" height="15.50" fill="#685eb3"/>
<text x="481.86" y="387.00" font-size="4.3" >61</text>
<text x="481.86" y="392.60" font-size="6.3" font-weight="bold" stroke="#000" stroke-width="0.15">Pm</text>
<rect x="496.64" y="382.60" width="14.80" height="15.50" fill="#685eb3"/>
<text x="497.94" y="387.00" font-size="4.3" >62</text>
<text x="497.94" y="392.60" font-size="6.3" font-weight="bold" stroke="#000" stroke-width="0.15">Sm</text>
<rect x="512.72" y="382.60" width="14.80" height="15.50" fill="#685eb3"/>
<text x="514.02" y="387.00" font-size="4.3" >63</text>
<text x="514.02" y="392.60" font-size="6.3" font-weight="bold" stroke="#000" stroke-width="0.15">Eu</text>
<rect x="528.80" y="382.60" width="14.80" height="15.50" fill="#685eb3"/>
<text x="530.10" y="387.00" font-size="4.3" >64</text>
<text x="530.10" y="392.60" font-size="6.3" font-weight="bold" stroke="#000" stroke-width="0.15">Gd</text>
<rect x="544.88" y="382.60" width="14.80" height="15.50" fill="#685eb3"/>
<text x="546.18" y="387.00" font-size="4.3" >65</text>
<text x="546.18" y="392.60" font-size="6.3" font-weight="bold" stroke="#000" stroke-width="0.15">Tb</text>
<rect x="560.96" y="382.60" width="14.80" height="15.50" fill="#685eb3"/>
<text x="562.26" y="387.00" font-size="4.3" >66</text>
<text x="562.26" y="392.60" font-size="6.3" font-weight="bold" stroke="#000" stroke-width="0.15">Dy</text>
<rect x="577.04" y="382.60" width="14.80" height="15.50" fill="#685eb3"/>
<text x="578.34" y="387.00" font-size="4.3" >67</text>
<text x="578.34" y="392.60" font-size="6.3" font-weight="bold" stroke="#000" stroke-width="0.15">Ho</text>
<rect x="593.12" y="382.60" width="14.80" height="15.50" fill="#685eb3"/>
<text x="594.42" y="387.00" font-size="4.3" >68</text>
<text x="594.42" y="392.60" font-size="6.3" font-weight="bold" stroke="#000" stroke-width="0.15">Er</text>
<rect x="609.20" y="382.60" width="14.80" height="15.50" fill="#685eb3"/>
<text x="610.50" y="387.00" font-size="4.3" >69</text>
<text x="610.50" y="392.60" font-size="6.3" font-weight="bold" stroke="#000" stroke-width="0.15">Tm</text>
<rect x="625.28" y="382.60" width="14.80" height="15.50" fill="#685eb3"/>
<text x="626.58" y="387.00" font-size="4.3" >70</text>
<text x="626.58" y="392.60" font-size="6.3" font-weight="bold" stroke="#000" stroke-width="0.15">Yb</text>
<rect x="416.24" y="399.90" width="14.80" height="15.50" fill="#685eb3"/>
<text x="417.54" y="404.30" font-size="4.3" >89</text>
<text x="417.54" y="409.90" font-size="6.3" font-weight="bold" stroke="#000" stroke-width="0.15">Ac</text>
<rect x="432.32" y="399.90" width="14.80" height="15.50" fill="#685eb3"/>
<text x="433.62" y="404.30" font-size="4.3" >90</text>
<text x="433.62" y="409.90" font-size="6.3" font-weight="bold" stroke="#000" stroke-width="0.15">Th</text>
<rect x="448.40" y="399.90" width="14.80" height="15.50" fill="#685eb3"/>
<text x="449.70" y="404.30" font-size="4.3" >91</text>
<text x="449.70" y="409.90" font-size="6.3" font-weight="bold" stroke="#000" stroke-width="0.15">Pa</text>
<rect x="464.48" y="399.90" width="14.80" height="15.50" fill="#835cbf"/>
<text x="465.78" y="404.30" font-size="4.3" >92</text>
<text x="465.78" y="409.90" font-size="6.3" font-weight="bold" stroke="#000" stroke-width="0.15">U</text>
<rect x="480.56" y="399.90" width="14.80" height="15.50" fill="#835cbf"/>
<text x="481.86" y="404.30" font-size="4.3" >93</text>
<text x="481.86" y="409.90" font-size="6.3" font-weight="bold" stroke="#000" stroke-width="0.15">Np</text>
<rect x="496.64" y="399.90" width="14.80" height="15.50" fill="#685eb3"/>
<text x="497.94" y="404.30" font-size="4.3" >94</text>
<text x="497.94" y="409.90" font-size="6.3" font-weight="bold" stroke="#000" stroke-width="0.15">Pu</text>
<rect x="512.72" y="399.90" width="14.80" height="15.50" fill="#d9d9d9"/>
<text x="514.02" y="404.30" font-size="4.3" >95</text>
<text x="514.02" y="409.90" font-size="6.3" font-weight="bold" stroke="#000" stroke-width="0.15">Am</text>
<rect x="528.80" y="399.90" width="14.80" height="15.50" fill="#d9d9d9"/>
<text x="530.10" y="404.30" font-size="4.3" >96</text>
<text x="530.10" y="409.90" font-size="6.3" font-weight="bold" stroke="#000" stroke-width="0.15">Cm</text>
<rect x="544.88" y="399.90" width="14.80" height="15.50" fill="#d9d9d9"/>
<text x="546.18" y="404.30" font-size="4.3" >97</text>
<text x="546.18" y="409.90" font-size="6.3" font-weight="bold" stroke="#000" stroke-width="0.15">Bk</text>
<rect x="560.96" y="399.90" width="14.80" height="15.50" fill="#d9d9d9"/>
<text x="562.26" y="404.30" font-size="4.3" >98</text>
<text x="562.26" y="409.90" font-size="6.3" font-weight="bold" stroke="#000" stroke-width="0.15">Cf</text>
<rect x="577.04" y="399.90" width="14.80" height="15.50" fill="#d9d9d9"/>
<text x="578.34" y="404.30" font-size="4.3" >99</text>
<text x="578.34" y="409.90" font-size="6.3" font-weight="bold" stroke="#000" stroke-width="0.15">Es</text>
<rect x="593.12" y="399.90" width="14.80" height="15.50" fill="#d9d9d9"/>
<text x="594.42" y="404.30" font-size="4.3" >100</text>
<text x="594.42" y="409.90" font-size="6.3" font-weight="bold" stroke="#000" stroke-width="0.15">Fm</text>
<rect x="609.20" y="399.90" width="14.80" height="15.50" fill="#d9d9d9"/>
<text x="610.50" y="404.30" font-size="4.3" >101</text>
<text x="610.50" y="409.90" font-size="6.3" font-weight="bold" stroke="#000" stroke-width="0.15">Md</text>
<rect x="625.28" y="399.90" width="14.80" height="15.50" fill="#d9d9d9"/>
<text x="626.58" y="404.30" font-size="4.3" >102</text>
<text x="626.58" y="409.90" font-size="6.3" font-weight="bold" stroke="#000" stroke-width="0.15">No</text></g>
<rect x="311.8" y="247.8" width="7.5" height="165.90" fill="url(#pg)"/>
<text x="322.90000000000003" y="416.80" font-size="7.2" fill="#444">0</text>
<rect x="317.7" y="396.90" width="1.6" height="0.6" fill="#fff" fill-opacity="0.85"/>
<text x="322.90000000000003" y="399.80" font-size="7.2" fill="#444">0.1</text>
<rect x="317.7" y="379.90" width="1.6" height="0.6" fill="#fff" fill-opacity="0.85"/>
<text x="322.90000000000003" y="382.80" font-size="7.2" fill="#444">0.2</text>
<rect x="317.7" y="362.90" width="1.6" height="0.6" fill="#fff" fill-opacity="0.85"/>
<text x="322.90000000000003" y="365.80" font-size="7.2" fill="#444">0.3</text>
<rect x="317.7" y="345.90" width="1.6" height="0.6" fill="#fff" fill-opacity="0.85"/>
<text x="322.90000000000003" y="348.80" font-size="7.2" fill="#444">0.4</text>
<rect x="317.7" y="328.90" width="1.6" height="0.6" fill="#fff" fill-opacity="0.85"/>
<text x="322.90000000000003" y="331.80" font-size="7.2" fill="#444">0.5</text>
<rect x="317.7" y="311.90" width="1.6" height="0.6" fill="#fff" fill-opacity="0.85"/>
<text x="322.90000000000003" y="314.80" font-size="7.2" fill="#444">0.6</text>
<rect x="317.7" y="294.90" width="1.6" height="0.6" fill="#fff" fill-opacity="0.85"/>
<text x="322.90000000000003" y="297.80" font-size="7.2" fill="#444">0.7</text>
<rect x="317.7" y="277.90" width="1.6" height="0.6" fill="#fff" fill-opacity="0.85"/>
<text x="322.90000000000003" y="280.80" font-size="7.2" fill="#444">0.8</text>
<rect x="317.7" y="260.90" width="1.6" height="0.6" fill="#fff" fill-opacity="0.85"/>
<text x="322.90000000000003" y="263.80" font-size="7.2" fill="#444">0.9</text>
<rect x="660.25" y="247.2" width="7.5" height="165.40" fill="url(#pg)"/>
<text x="671.35" y="416.50" font-size="7.2" fill="#444">0</text>
<rect x="666.15" y="396.61" width="1.6" height="0.6" fill="#fff" fill-opacity="0.85"/>
<text x="671.35" y="399.81" font-size="7.2" fill="#444">0.1</text>
<rect x="666.15" y="379.92" width="1.6" height="0.6" fill="#fff" fill-opacity="0.85"/>
<text x="671.35" y="383.12" font-size="7.2" fill="#444">0.2</text>
<rect x="666.15" y="363.23" width="1.6" height="0.6" fill="#fff" fill-opacity="0.85"/>
<text x="671.35" y="366.43" font-size="7.2" fill="#444">0.3</text>
<rect x="666.15" y="346.54" width="1.6" height="0.6" fill="#fff" fill-opacity="0.85"/>
<text x="671.35" y="349.74" font-size="7.2" fill="#444">0.4</text>
<rect x="666.15" y="329.85" width="1.6" height="0.6" fill="#fff" fill-opacity="0.85"/>
<text x="671.35" y="333.05" font-size="7.2" fill="#444">0.5</text>
<rect x="666.15" y="313.16" width="1.6" height="0.6" fill="#fff" fill-opacity="0.85"/>
<text x="671.35" y="316.36" font-size="7.2" fill="#444">0.6</text>
<rect x="666.15" y="296.47" width="1.6" height="0.6" fill="#fff" fill-opacity="0.85"/>
<text x="671.35" y="299.67" font-size="7.2" fill="#444">0.7</text>
<rect x="666.15" y="279.78" width="1.6" height="0.6" fill="#fff" fill-opacity="0.85"/>
<text x="671.35" y="282.98" font-size="7.2" fill="#444">0.8</text>
<rect x="666.15" y="263.09" width="1.6" height="0.6" fill="#fff" fill-opacity="0.85"/>
<text x="671.35" y="266.29" font-size="7.2" fill="#444">0.9</text>
<g id="pb">
<rect x="559.93" y="24.57" width="1.20" height="0.23" fill="#37359b"/>
<rect x="561.13" y="24.57" width="0.22" height="0.23" fill="#8584c6"/>
<rect x="561.35" y="24.39" width="1.20" height="0.41" fill="#37359b"/>
<rect x="562.55" y="24.39" width="0.22" height="0.41" fill="#8584c6"/>
<rect x="562.77" y="24.21" width="1.20" height="0.59" fill="#37359b"/>
<rect x="563.97" y="24.21" width="0.22" height="0.59" fill="#8584c6"/>
<rect x="564.19" y="24.04" width="1.20" height="0.76" fill="#37359b"/>
<rect x="565.39" y="24.04" width="0.22" height="0.76" fill="#8584c6"/>
<rect x="565.61" y="23.90" width="1.20" height="0.90" fill="#37359b"/>
<rect x="566.81" y="23.90" width="0.22" height="0.90" fill="#8584c6"/>
<rect x="567.03" y="23.76" width="1.20" height="1.04" fill="#37359b"/>
<rect x="568.23" y="23.76" width="0.22" height="1.04" fill="#8584c6"/>
<rect x="568.45" y="23.61" width="1.20" height="1.19" fill="#37359b"/>
<rect x="569.65" y="23.61" width="0.22" height="1.19" fill="#8584c6"/>
<rect x="569.87" y="23.47" width="1.20" height="1.33" fill="#37359b"/>
<rect x="571.07" y="23.47" width="0.22" height="1.33" fill="#8584c6"/>
<rect x="571.29" y="23.32" width="1.20" height="1.48" fill="#37359b"/>
<rect x="572.49" y="23.32" width="0.22" height="1.48" fill="#8584c6"/>
<rect x="572.71" y="22.99" width="1.20" height="1.81" fill="#37359b"/>
<rect x="573.91" y="22.99" width="0.22" height="1.81" fill="#8584c6"/>
<rect x="574.13" y="22.67" width="1.20" height="2.13" fill="#37359b"/>
<rect x="575.33" y="22.67" width="0.22" height="2.13" fill="#8584c6"/>
<rect x="575.55" y="22.34" width="1.20" height="2.46" fill="#37359b"/>
<rect x="576.75" y="22.34" width="0.22" height="2.46" fill="#8584c6"/>
<rect x="576.97" y="22.13" width="1.20" height="2.67" fill="#37359b"/>
<rect x="578.17" y="22.13" width="0.22" height="2.67" fill="#8584c6"/>
<rect x="578.39" y="22.03" width="1.20" height="2.77" fill="#37359b"/>
<rect x="579.59" y="22.03" width="0.22" height="2.77" fill="#8584c6"/>
<rect x="579.81" y="21.94" width="1.20" height="2.86" fill="#37359b"/>
<rect x="581.01" y="21.94" width="0.22" height="2.86" fill="#8584c6"/>
<rect x="581.23" y="21.75" width="1.20" height="3.05" fill="#37359b"/>
<rect x="582.43" y="21.75" width="0.22" height="3.05" fill="#8584c6"/>
<rect x="582.65" y="21.43" width="1.20" height="3.37" fill="#37359b"/>
<rect x="583.85" y="21.43" width="0.22" height="3.37" fill="#8584c6"/>
<rect x="584.07" y="21.11" width="1.20" height="3.69" fill="#37359b"/>
<rect x="585.27" y="21.11" width="0.22" height="3.69" fill="#8584c6"/>
<rect x="585.49" y="20.78" width="1.20" height="4.02" fill="#37359b"/>
<rect x="586.69" y="20.78" width="0.22" height="4.02" fill="#8584c6"/>
<rect x="586.91" y="20.32" width="1.20" height="4.48" fill="#37359b"/>
<rect x="588.11" y="20.32" width="0.22" height="4.48" fill="#8584c6"/>
<rect x="588.33" y="19.82" width="1.20" height="4.98" fill="#37359b"/>
<rect x="589.53" y="19.82" width="0.22" height="4.98" fill="#8584c6"/>
<rect x="589.75" y="19.45" width="1.20" height="5.35" fill="#37359b"/>
<rect x="590.95" y="19.45" width="0.22" height="5.35" fill="#8584c6"/>
<rect x="591.17" y="19.12" width="1.20" height="5.68" fill="#37359b"/>
<rect x="592.37" y="19.12" width="0.22" height="5.68" fill="#8584c6"/>
<rect x="592.59" y="18.78" width="1.20" height="6.02" fill="#37359b"/>
<rect x="593.79" y="18.78" width="0.22" height="6.02" fill="#8584c6"/>
<rect x="594.01" y="18.42" width="1.20" height="6.38" fill="#37359b"/>
<rect x="595.21" y="18.42" width="0.22" height="6.38" fill="#8584c6"/>
<rect x="595.43" y="18.04" width="1.20" height="6.76" fill="#37359b"/>
<rect x="596.63" y="18.04" width="0.22" height="6.76" fill="#8584c6"/>
<rect x="596.85" y="17.67" width="1.20" height="7.13" fill="#37359b"/>
<rect x="598.05" y="17.67" width="0.22" height="7.13" fill="#8584c6"/>
<rect x="598.27" y="17.18" width="1.20" height="7.62" fill="#37359b"/>
<rect x="599.47" y="17.18" width="0.22" height="7.62" fill="#8584c6"/>
<rect x="599.69" y="16.61" width="1.20" height="8.19" fill="#37359b"/>
<rect x="600.89" y="16.61" width="0.22" height="8.19" fill="#8584c6"/>
<rect x="601.11" y="16.04" width="1.20" height="8.76" fill="#37359b"/>
<rect x="602.31" y="16.04" width="0.22" height="8.76" fill="#8584c6"/>
<rect x="602.53" y="13.50" width="1.20" height="11.30" fill="#37359b"/>
<rect x="603.73" y="13.50" width="0.22" height="11.30" fill="#8584c6"/>
<rect x="603.95" y="12.59" width="1.20" height="12.21" fill="#37359b"/>
<rect x="605.15" y="12.59" width="0.22" height="12.21" fill="#8584c6"/>
<rect x="605.37" y="11.74" width="1.20" height="13.06" fill="#37359b"/>
<rect x="606.57" y="11.74" width="0.22" height="13.06" fill="#8584c6"/>
<rect x="606.79" y="9.72" width="1.20" height="15.08" fill="#37359b"/>
<rect x="607.99" y="9.72" width="0.22" height="15.08" fill="#8584c6"/>
<rect x="608.21" y="7.59" width="1.20" height="17.21" fill="#37359b"/>
<rect x="609.41" y="7.59" width="0.22" height="17.21" fill="#8584c6"/>
<rect x="609.63" y="7.18" width="1.20" height="17.62" fill="#37359b"/>
<rect x="610.83" y="7.18" width="0.22" height="17.62" fill="#8584c6"/>
<rect x="611.05" y="7.07" width="1.20" height="17.73" fill="#37359b"/>
<rect x="612.25" y="7.07" width="0.22" height="17.73" fill="#8584c6"/>
<rect x="612.47" y="6.70" width="1.20" height="18.10" fill="#37359b"/>
<rect x="613.67" y="6.70" width="0.22" height="18.10" fill="#8584c6"/>
<rect x="613.89" y="5.68" width="1.20" height="19.12" fill="#37359b"/>
<rect x="615.09" y="5.68" width="0.22" height="19.12" fill="#8584c6"/>
<rect x="615.31" y="4.65" width="1.20" height="20.15" fill="#37359b"/>
<rect x="616.51" y="4.65" width="0.22" height="20.15" fill="#8584c6"/>
<rect x="616.73" y="3.88" width="1.20" height="20.92" fill="#37359b"/>
<rect x="617.93" y="3.88" width="0.22" height="20.92" fill="#8584c6"/>
<rect x="618.15" y="3.19" width="1.20" height="21.61" fill="#37359b"/>
<rect x="619.35" y="3.19" width="0.22" height="21.61" fill="#8584c6"/>
<rect x="619.57" y="2.65" width="1.20" height="22.15" fill="#37359b"/>
<rect x="620.77" y="2.65" width="0.22" height="22.15" fill="#8584c6"/>
<rect x="620.99" y="2.94" width="1.20" height="21.86" fill="#37359b"/>
<rect x="622.19" y="2.94" width="0.22" height="21.86" fill="#8584c6"/>
<rect x="622.41" y="3.11" width="1.20" height="21.69" fill="#37359b"/>
<rect x="623.61" y="3.11" width="0.22" height="21.69" fill="#8584c6"/>
<rect x="623.83" y="2.16" width="1.20" height="22.64" fill="#37359b"/>
<rect x="625.03" y="2.16" width="0.22" height="22.64" fill="#8584c6"/>
<rect x="625.25" y="1.65" width="1.20" height="23.15" fill="#37359b"/>
<rect x="626.45" y="1.65" width="0.22" height="23.15" fill="#8584c6"/>
<rect x="626.67" y="1.49" width="1.20" height="23.31" fill="#37359b"/>
<rect x="627.87" y="1.49" width="0.22" height="23.31" fill="#8584c6"/>
<rect x="628.09" y="0.00" width="1.20" height="24.80" fill="#37359b"/>
<rect x="629.29" y="0.00" width="0.22" height="24.80" fill="#8584c6"/>
<rect x="629.51" y="6.91" width="1.20" height="17.89" fill="#37359b"/>
<rect x="630.71" y="6.91" width="0.22" height="17.89" fill="#8584c6"/>
<rect x="630.93" y="12.78" width="1.20" height="12.02" fill="#37359b"/>
<rect x="632.13" y="12.78" width="0.22" height="12.02" fill="#8584c6"/>
<rect x="632.35" y="17.04" width="1.20" height="7.76" fill="#37359b"/>
<rect x="633.55" y="17.04" width="0.22" height="7.76" fill="#8584c6"/>
<rect x="633.77" y="20.40" width="1.20" height="4.40" fill="#37359b"/>
<rect x="634.97" y="20.40" width="0.22" height="4.40" fill="#8584c6"/>
<rect x="635.19" y="22.30" width="1.20" height="2.50" fill="#37359b"/>
<rect x="636.39" y="22.30" width="0.22" height="2.50" fill="#8584c6"/>
<rect x="636.61" y="23.36" width="1.20" height="1.44" fill="#37359b"/>
<rect x="637.81" y="23.36" width="0.22" height="1.44" fill="#8584c6"/>
<rect x="638.03" y="24.27" width="1.20" height="0.53" fill="#37359b"/>
<rect x="639.23" y="24.27" width="0.22" height="0.53" fill="#8584c6"/>
<rect x="500" y="24.3" width="150.6" height="1.3" fill="#6e6e6e"/>
<rect x="524.62" y="25" width="1" height="4.8" fill="#333"/>
<rect x="564.05" y="25" width="1" height="4.8" fill="#333"/>
<rect x="603.48" y="25" width="1" height="4.8" fill="#333"/>
<rect x="642.90" y="25" width="1" height="4.8" fill="#333"/>
<rect x="654.9" y="30" width="1" height="153.6" fill="#333"/>
<rect x="650.4" y="36.70" width="5" height="1" fill="#333"/>
<rect x="650.4" y="68.84" width="5" height="1" fill="#333"/>
<rect x="650.4" y="100.98" width="5" height="1" fill="#333"/>
<rect x="650.4" y="133.12" width="5" height="1" fill="#333"/>
<rect x="650.4" y="165.26" width="5" height="1" fill="#333"/>
<circle cx="536.5" cy="50.7" r="1.9" fill="#4c72b0" fill-opacity="0.07"/>
<circle cx="546.4" cy="49.6" r="1.9" fill="#4c72b0" fill-opacity="0.07"/>
<circle cx="537.7" cy="51.0" r="1.9" fill="#4c72b0" fill-opacity="0.07"/>
<circle cx="530.9" cy="50.1" r="1.9" fill="#4c72b0" fill-opacity="0.07"/>
<circle cx="540.2" cy="53.5" r="1.9" fill="#4c72b0" fill-opacity="0.07"/>
<circle cx="529.0" cy="47.6" r="1.9" fill="#4c72b0" fill-opacity="0.07"/>
<circle cx="528.9" cy="53.7" r="1.9" fill="#4c72b0" fill-opacity="0.07"/>
<circle cx="541.6" cy="44.5" r="1.9" fill="#4c72b0" fill-opacity="0.07"/>
<circle cx="547.6" cy="55.6" r="1.9" fill="#4c72b0" fill-opacity="0.07"/>
<circle cx="540.7" cy="51.4" r="1.9" fill="#4c72b0" fill-opacity="0.07"/>
<circle cx="530.3" cy="44.2" r="1.9" fill="#4c72b0" fill-opacity="0.07"/>
<circle cx="538.1" cy="44.7" r="1.9" fill="#4c72b0" fill-opacity="0.07"/>
<circle cx="531.0" cy="46.9" r="1.9" fill="#4c72b0" fill-opacity="0.07"/>
<circle cx="527.6" cy="49.6" r="1.9" fill="#4c72b0" fill-opacity="0.07"/>
<circle cx="536.3" cy="54.1" r="1.9" fill="#4c72b0" fill-opacity="0.07"/>
<circle cx="537.9" cy="51.7" r="1.9" fill="#4c72b0" fill-opacity="0.07"/>
<circle cx="537.5" cy="51.9" r="1.9" fill="#4c72b0" fill-opacity="0.07"/>
<circle cx="536.6" cy="47.3" r="1.9" fill="#4c72b0" fill-opacity="0.07"/>
<circle cx="548.0" cy="55.9" r="1.9" fill="#4c72b0" fill-opacity="0.07"/>
<circle cx="544.6" cy="52.5" r="1.9" fill="#4c72b0" fill-opacity="0.07"/>
<circle cx="533.6" cy="46.8" r="1.9" fill="#4c72b0" fill-opacity="0.07"/>
<circle cx="533.1" cy="44.8" r="1.9" fill="#4c72b0" fill-opacity="0.07"/>
<circle cx="543.1" cy="48.8" r="1.9" fill="#4c72b0" fill-opacity="0.07"/>
<circle cx="544.8" cy="48.6" r="1.9" fill="#4c72b0" fill-opacity="0.07"/>
<circle cx="547.1" cy="54.2" r="1.9" fill="#4c72b0" fill-opacity="0.07"/>
<circle cx="527.0" cy="46.5" r="1.9" fill="#4c72b0" fill-opacity="0.07"/>
<circle cx="546.1" cy="49.6" r="1.9" fill="#4c72b0" fill-opacity="0.07"/>
<circle cx="547.6" cy="48.8" r="1.9" fill="#4c72b0" fill-opacity="0.07"/>
<circle cx="528.5" cy="51.6" r="1.9" fill="#4c72b0" fill-opacity="0.07"/>
<circle cx="543.3" cy="47.2" r="1.9" fill="#4c72b0" fill-opacity="0.07"/>
<circle cx="528.8" cy="48.0" r="1.9" fill="#4c72b0" fill-opacity="0.07"/>
<circle cx="547.2" cy="53.1" r="1.9" fill="#4c72b0" fill-opacity="0.07"/>
<circle cx="529.5" cy="47.0" r="1.9" fill="#4c72b0" fill-opacity="0.07"/>
<circle cx="529.1" cy="44.7" r="1.9" fill="#4c72b0" fill-opacity="0.07"/>
<circle cx="543.7" cy="46.1" r="1.9" fill="#4c72b0" fill-opacity="0.07"/>
<circle cx="538.7" cy="49.4" r="1.9" fill="#4c72b0" fill-opacity="0.07"/>
<circle cx="540.9" cy="50.6" r="1.9" fill="#4c72b0" fill-opacity="0.10"/>
<circle cx="540.0" cy="49.5" r="1.9" fill="#4c72b0" fill-opacity="0.10"/>
<circle cx="539.7" cy="46.8" r="1.9" fill="#4c72b0" fill-opacity="0.10"/>
<circle cx="541.2" cy="44.9" r="1.9" fill="#4c72b0" fill-opacity="0.10"/>
<circle cx="552.6" cy="51.5" r="1.9" fill="#4c72b0" fill-opacity="0.10"/>
<circle cx="542.6" cy="52.6" r="1.9" fill="#4c72b0" fill-opacity="0.10"/>
<circle cx="541.2" cy="46.4" r="1.9" fill="#4c72b0" fill-opacity="0.10"/>
<circle cx="550.8" cy="49.5" r="1.9" fill="#4c72b0" fill-opacity="0.10"/>
<circle cx="539.5" cy="53.9" r="1.9" fill="#4c72b0" fill-opacity="0.10"/>
<circle cx="541.2" cy="44.7" r="1.9" fill="#4c72b0" fill-opacity="0.10"/>
<circle cx="549.6" cy="45.6" r="1.9" fill="#4c72b0" fill-opacity="0.10"/>
<circle cx="542.4" cy="42.4" r="1.9" fill="#4c72b0" fill-opacity="0.10"/>
<circle cx="539.4" cy="48.8" r="1.9" fill="#4c72b0" fill-opacity="0.10"/>
<circle cx="541.6" cy="49.0" r="1.9" fill="#4c72b0" fill-opacity="0.10"/>
<circle cx="543.6" cy="47.2" r="1.9" fill="#4c72b0" fill-opacity="0.10"/>
<circle cx="552.4" cy="47.5" r="1.9" fill="#4c72b0" fill-opacity="0.10"/>
<circle cx="546.6" cy="52.3" r="1.9" fill="#4c72b0" fill-opacity="0.10"/>
<circle cx="540.7" cy="43.4" r="1.9" fill="#4c72b0" fill-opacity="0.10"/>
<circle cx="551.6" cy="51.7" r="1.9" fill="#4c72b0" fill-opacity="0.10"/>
<circle cx="541.7" cy="43.9" r="1.9" fill="#4c72b0" fill-opacity="0.10"/>
<circle cx="549.1" cy="53.3" r="1.9" fill="#4c72b0" fill-opacity="0.10"/>
<circle cx="540.9" cy="53.4" r="1.9" fill="#4c72b0" fill-opacity="0.10"/>
<circle cx="551.2" cy="49.0" r="1.9" fill="#4c72b0" fill-opacity="0.10"/>
<circle cx="544.3" cy="42.8" r="1.9" fill="#4c72b0" fill-opacity="0.10"/>
<circle cx="538.6" cy="53.5" r="1.9" fill="#4c72b0" fill-opacity="0.10"/>
<circle cx="541.6" cy="50.3" r="1.9" fill="#4c72b0" fill-opacity="0.10"/>
<circle cx="541.9" cy="51.8" r="1.9" fill="#4c72b0" fill-opacity="0.10"/>
<circle cx="546.9" cy="45.2" r="1.9" fill="#4c72b0" fill-opacity="0.10"/>
<circle cx="540.6" cy="50.5" r="1.9" fill="#4c72b0" fill-opacity="0.10"/>
<circle cx="539.0" cy="44.4" r="1.9" fill="#4c72b0" fill-opacity="0.10"/>
<circle cx="546.4" cy="52.2" r="1.9" fill="#4c72b0" fill-opacity="0.10"/>
<circle cx="547.2" cy="45.0" r="1.9" fill="#4c72b0" fill-opacity="0.10"/>
<circle cx="551.8" cy="44.0" r="1.9" fill="#4c72b0" fill-opacity="0.10"/>
<circle cx="538.2" cy="44.9" r="1.9" fill="#4c72b0" fill-opacity="0.10"/>
<circle cx="544.7" cy="42.3" r="1.9" fill="#4c72b0" fill-opacity="0.10"/>
<circle cx="540.6" cy="46.1" r="1.9" fill="#4c72b0" fill-opacity="0.10"/>
<circle cx="546.6" cy="43.1" r="1.9" fill="#4c72b0" fill-opacity="0.10"/>
<circle cx="543.4" cy="52.6" r="1.9" fill="#4c72b0" fill-opacity="0.10"/>
<circle cx="552.7" cy="49.7" r="1.9" fill="#4c72b0" fill-opacity="0.10"/>
<circle cx="548.4" cy="48.8" r="1.9" fill="#4c72b0" fill-opacity="0.10"/>
<circle cx="540.1" cy="41.9" r="1.9" fill="#4c72b0" fill-opacity="0.10"/>
<circle cx="538.3" cy="52.9" r="1.9" fill="#4c72b0" fill-opacity="0.10"/>
<circle cx="548.5" cy="53.5" r="1.9" fill="#4c72b0" fill-opacity="0.10"/>
<circle cx="538.3" cy="49.5" r="1.9" fill="#4c72b0" fill-opacity="0.10"/>
<circle cx="545.2" cy="50.6" r="1.9" fill="#4c72b0" fill-opacity="0.10"/>
<circle cx="542.8" cy="54.0" r="1.9" fill="#4c72b0" fill-opacity="0.10"/>
<circle cx="539.1" cy="48.3" r="1.9" fill="#4c72b0" fill-opacity="0.10"/>
<circle cx="549.1" cy="52.8" r="1.9" fill="#4c72b0" fill-opacity="0.10"/>
<circle cx="549.1" cy="50.3" r="1.9" fill="#4c72b0" fill-opacity="0.10"/>
<circle cx="549.9" cy="52.9" r="1.9" fill="#4c72b0" fill-opacity="0.10"/>
<circle cx="543.3" cy="50.1" r="1.9" fill="#4c72b0" fill-opacity="0.10"/>
<circle cx="551.5" cy="52.4" r="1.9" fill="#4c72b0" fill-opacity="0.10"/>
<circle cx="544.3" cy="51.4" r="1.9" fill="#4c72b0" fill-opacity="0.10"/>
<circle cx="551.0" cy="48.7" r="1.9" fill="#4c72b0" fill-opacity="0.10"/>
<circle cx="547.4" cy="46.3" r="1.9" fill="#4c72b0" fill-opacity="0.10"/>
<circle cx="546.7" cy="49.1" r="1.9" fill="#4c72b0" fill-opacity="0.10"/>
<circle cx="539.2" cy="49.5" r="1.9" fill="#4c72b0" fill-opacity="0.10"/>
<circle cx="552.9" cy="52.5" r="1.9" fill="#4c72b0" fill-opacity="0.10"/>
<circle cx="548.9" cy="46.4" r="1.9" fill="#4c72b0" fill-opacity="0.10"/>
<circle cx="549.0" cy="48.8" r="1.9" fill="#4c72b0" fill-opacity="0.10"/>
<circle cx="544.6" cy="52.0" r="1.9" fill="#4c72b0" fill-opacity="0.10"/>
<circle cx="539.3" cy="50.9" r="1.9" fill="#4c72b0" fill-opacity="0.10"/>
<circle cx="538.4" cy="49.0" r="1.9" fill="#4c72b0" fill-opacity="0.10"/>
<circle cx="545.2" cy="44.4" r="1.9" fill="#4c72b0" fill-opacity="0.10"/>
<circle cx="548.5" cy="47.7" r="1.9" fill="#4c72b0" fill-opacity="0.10"/>
<circle cx="547.2" cy="53.0" r="1.9" fill="#4c72b0" fill-opacity="0.10"/>
<circle cx="541.8" cy="41.6" r="1.9" fill="#4c72b0" fill-opacity="0.10"/>
<circle cx="542.5" cy="50.0" r="1.9" fill="#4c72b0" fill-opacity="0.10"/>
<circle cx="541.0" cy="43.6" r="1.9" fill="#4c72b0" fill-opacity="0.10"/>
<circle cx="551.6" cy="49.7" r="1.9" fill="#4c72b0" fill-opacity="0.10"/>
<circle cx="544.6" cy="52.6" r="1.9" fill="#4c72b0" fill-opacity="0.10"/>
<circle cx="542.9" cy="49.8" r="1.9" fill="#4c72b0" fill-opacity="0.10"/>
<circle cx="541.0" cy="46.9" r="1.9" fill="#4c72b0" fill-opacity="0.10"/>
<circle cx="550.1" cy="52.9" r="1.9" fill="#4c72b0" fill-opacity="0.10"/>
<circle cx="551.2" cy="46.3" r="1.9" fill="#4c72b0" fill-opacity="0.10"/>
<circle cx="546.7" cy="45.5" r="1.9" fill="#4c72b0" fill-opacity="0.10"/>
<circle cx="540.0" cy="47.7" r="1.9" fill="#4c72b0" fill-opacity="0.10"/>
<circle cx="550.6" cy="52.1" r="1.9" fill="#4c72b0" fill-opacity="0.10"/>
<circle cx="548.7" cy="53.4" r="1.9" fill="#4c72b0" fill-opacity="0.10"/>
<circle cx="542.2" cy="43.6" r="1.9" fill="#4c72b0" fill-opacity="0.10"/>
<circle cx="544.8" cy="44.9" r="1.9" fill="#4c72b0" fill-opacity="0.10"/>
<circle cx="541.2" cy="46.7" r="1.9" fill="#4c72b0" fill-opacity="0.10"/>
<circle cx="547.4" cy="47.7" r="1.9" fill="#4c72b0" fill-opacity="0.10"/>
<circle cx="542.7" cy="52.0" r="1.9" fill="#4c72b0" fill-opacity="0.10"/>
<circle cx="552.7" cy="47.2" r="1.9" fill="#4c72b0" fill-opacity="0.10"/>
<circle cx="539.1" cy="41.9" r="1.9" fill="#4c72b0" fill-opacity="0.10"/>
<circle cx="551.1" cy="42.0" r="1.9" fill="#4c72b0" fill-opacity="0.10"/>
<circle cx="548.6" cy="48.6" r="1.9" fill="#4c72b0" fill-opacity="0.10"/>
<circle cx="542.6" cy="51.4" r="1.9" fill="#4c72b0" fill-opacity="0.10"/>
<circle cx="538.3" cy="43.2" r="1.9" fill="#4c72b0" fill-opacity="0.10"/>
<circle cx="554.8" cy="41.0" r="1.9" fill="#4c72b0" fill-opacity="0.17"/>
<circle cx="560.4" cy="42.9" r="1.9" fill="#4c72b0" fill-opacity="0.17"/>
<circle cx="550.1" cy="42.0" r="1.9" fill="#4c72b0" fill-opacity="0.17"/>
<circle cx="557.4" cy="45.8" r="1.9" fill="#4c72b0" fill-opacity="0.17"/>
<circle cx="557.4" cy="48.3" r="1.9" fill="#4c72b0" fill-opacity="0.17"/>
<circle cx="560.1" cy="52.0" r="1.9" fill="#4c72b0" fill-opacity="0.17"/>
<circle cx="558.3" cy="42.7" r="1.9" fill="#4c72b0" fill-opacity="0.17"/>
<circle cx="555.1" cy="42.8" r="1.9" fill="#4c72b0" fill-opacity="0.17"/>
<circle cx="548.2" cy="46.8" r="1.9" fill="#4c72b0" fill-opacity="0.17"/>
<circle cx="558.7" cy="42.4" r="1.9" fill="#4c72b0" fill-opacity="0.17"/>
<circle cx="552.1" cy="45.1" r="1.9" fill="#4c72b0" fill-opacity="0.17"/>
<circle cx="558.5" cy="46.6" r="1.9" fill="#4c72b0" fill-opacity="0.17"/>
<circle cx="557.2" cy="49.5" r="1.9" fill="#4c72b0" fill-opacity="0.17"/>
<circle cx="553.9" cy="50.1" r="1.9" fill="#4c72b0" fill-opacity="0.17"/>
<circle cx="561.6" cy="40.8" r="1.9" fill="#4c72b0" fill-opacity="0.17"/>
<circle cx="562.0" cy="48.9" r="1.9" fill="#4c72b0" fill-opacity="0.17"/>
<circle cx="549.9" cy="46.5" r="1.9" fill="#4c72b0" fill-opacity="0.17"/>
<circle cx="557.4" cy="51.4" r="1.9" fill="#4c72b0" fill-opacity="0.17"/>
<circle cx="553.7" cy="47.5" r="1.9" fill="#4c72b0" fill-opacity="0.17"/>
<circle cx="561.2" cy="49.9" r="1.9" fill="#4c72b0" fill-opacity="0.17"/>
<circle cx="562.2" cy="45.6" r="1.9" fill="#4c72b0" fill-opacity="0.17"/>
<circle cx="557.8" cy="42.8" r="1.9" fill="#4c72b0" fill-opacity="0.17"/>
<circle cx="558.8" cy="50.3" r="1.9" fill="#4c72b0" fill-opacity="0.17"/>
<circle cx="557.6" cy="49.1" r="1.9" fill="#4c72b0" fill-opacity="0.17"/>
<circle cx="551.2" cy="51.4" r="1.9" fill="#4c72b0" fill-opacity="0.17"/>
<circle cx="562.7" cy="52.2" r="1.9" fill="#4c72b0" fill-opacity="0.17"/>
<circle cx="556.1" cy="50.0" r="1.9" fill="#4c72b0" fill-opacity="0.17"/>
<circle cx="552.8" cy="51.5" r="1.9" fill="#4c72b0" fill-opacity="0.17"/>
<circle cx="560.8" cy="44.2" r="1.9" fill="#4c72b0" fill-opacity="0.17"/>
<circle cx="549.2" cy="46.4" r="1.9" fill="#4c72b0" fill-opacity="0.17"/>
<circle cx="556.3" cy="49.7" r="1.9" fill="#4c72b0" fill-opacity="0.17"/>
<circle cx="555.3" cy="41.0" r="1.9" fill="#4c72b0" fill-opacity="0.17"/>
<circle cx="560.1" cy="40.7" r="1.9" fill="#4c72b0" fill-opacity="0.17"/>
<circle cx="560.0" cy="42.1" r="1.9" fill="#4c72b0" fill-opacity="0.17"/>
<circle cx="553.0" cy="50.1" r="1.9" fill="#4c72b0" fill-opacity="0.17"/>
<circle cx="550.1" cy="43.1" r="1.9" fill="#4c72b0" fill-opacity="0.17"/>
<circle cx="555.7" cy="49.2" r="1.9" fill="#4c72b0" fill-opacity="0.17"/>
<circle cx="560.6" cy="48.6" r="1.9" fill="#4c72b0" fill-opacity="0.17"/>
<circle cx="562.2" cy="46.0" r="1.9" fill="#4c72b0" fill-opacity="0.17"/>
<circle cx="562.2" cy="40.7" r="1.9" fill="#4c72b0" fill-opacity="0.17"/>
<circle cx="551.3" cy="47.2" r="1.9" fill="#4c72b0" fill-opacity="0.17"/>
<circle cx="552.4" cy="49.4" r="1.9" fill="#4c72b0" fill-opacity="0.17"/>
<circle cx="557.6" cy="46.7" r="1.9" fill="#4c72b0" fill-opacity="0.17"/>
<circle cx="560.7" cy="46.9" r="1.9" fill="#4c72b0" fill-opacity="0.17"/>
<circle cx="552.7" cy="45.4" r="1.9" fill="#4c72b0" fill-opacity="0.17"/>
<circle cx="560.7" cy="51.2" r="1.9" fill="#4c72b0" fill-opacity="0.17"/>
<circle cx="551.1" cy="50.8" r="1.9" fill="#4c72b0" fill-opacity="0.17"/>
<circle cx="562.5" cy="46.3" r="1.9" fill="#4c72b0" fill-opacity="0.17"/>
<circle cx="556.6" cy="42.9" r="1.9" fill="#4c72b0" fill-opacity="0.17"/>
<circle cx="556.0" cy="46.6" r="1.9" fill="#4c72b0" fill-opacity="0.17"/>
<circle cx="557.1" cy="40.7" r="1.9" fill="#4c72b0" fill-opacity="0.17"/>
<circle cx="562.5" cy="46.2" r="1.9" fill="#4c72b0" fill-opacity="0.17"/>
<circle cx="554.0" cy="50.2" r="1.9" fill="#4c72b0" fill-opacity="0.17"/>
<circle cx="556.4" cy="46.4" r="1.9" fill="#4c72b0" fill-opacity="0.17"/>
<circle cx="558.4" cy="41.0" r="1.9" fill="#4c72b0" fill-opacity="0.17"/>
<circle cx="556.1" cy="45.5" r="1.9" fill="#4c72b0" fill-opacity="0.17"/>
<circle cx="562.4" cy="51.5" r="1.9" fill="#4c72b0" fill-opacity="0.17"/>
<circle cx="552.0" cy="46.5" r="1.9" fill="#4c72b0" fill-opacity="0.17"/>
<circle cx="549.9" cy="46.3" r="1.9" fill="#4c72b0" fill-opacity="0.17"/>
<circle cx="560.2" cy="51.2" r="1.9" fill="#4c72b0" fill-opacity="0.17"/>
<circle cx="555.1" cy="44.4" r="1.9" fill="#4c72b0" fill-opacity="0.17"/>
<circle cx="550.9" cy="48.2" r="1.9" fill="#4c72b0" fill-opacity="0.17"/>
<circle cx="561.9" cy="41.3" r="1.9" fill="#4c72b0" fill-opacity="0.17"/>
<circle cx="559.7" cy="40.3" r="1.9" fill="#4c72b0" fill-opacity="0.17"/>
<circle cx="550.9" cy="43.9" r="1.9" fill="#4c72b0" fill-opacity="0.17"/>
<circle cx="558.3" cy="44.2" r="1.9" fill="#4c72b0" fill-opacity="0.17"/>
<circle cx="553.3" cy="48.1" r="1.9" fill="#4c72b0" fill-opacity="0.17"/>
<circle cx="549.6" cy="49.5" r="1.9" fill="#4c72b0" fill-opacity="0.17"/>
<circle cx="549.8" cy="47.1" r="1.9" fill="#4c72b0" fill-opacity="0.17"/>
<circle cx="551.8" cy="43.4" r="1.9" fill="#4c72b0" fill-opacity="0.17"/>
<circle cx="556.0" cy="45.8" r="1.9" fill="#4c72b0" fill-opacity="0.17"/>
<circle cx="553.6" cy="45.7" r="1.9" fill="#4c72b0" fill-opacity="0.17"/>
<circle cx="555.9" cy="42.5" r="1.9" fill="#4c72b0" fill-opacity="0.17"/>
<circle cx="551.1" cy="48.4" r="1.9" fill="#4c72b0" fill-opacity="0.17"/>
<circle cx="557.6" cy="46.8" r="1.9" fill="#4c72b0" fill-opacity="0.17"/>
<circle cx="560.8" cy="47.6" r="1.9" fill="#4c72b0" fill-opacity="0.17"/>
<circle cx="560.9" cy="42.8" r="1.9" fill="#4c72b0" fill-opacity="0.17"/>
<circle cx="559.1" cy="50.1" r="1.9" fill="#4c72b0" fill-opacity="0.17"/>
<circle cx="561.5" cy="43.8" r="1.9" fill="#4c72b0" fill-opacity="0.17"/>
<circle cx="552.7" cy="51.6" r="1.9" fill="#4c72b0" fill-opacity="0.17"/>
<circle cx="551.3" cy="52.5" r="1.9" fill="#4c72b0" fill-opacity="0.17"/>
<circle cx="561.3" cy="41.5" r="1.9" fill="#4c72b0" fill-opacity="0.17"/>
<circle cx="551.6" cy="49.4" r="1.9" fill="#4c72b0" fill-opacity="0.17"/>
<circle cx="551.9" cy="42.3" r="1.9" fill="#4c72b0" fill-opacity="0.17"/>
<circle cx="560.5" cy="45.2" r="1.9" fill="#4c72b0" fill-opacity="0.17"/>
<circle cx="559.8" cy="41.6" r="1.9" fill="#4c72b0" fill-opacity="0.17"/>
<circle cx="554.0" cy="48.8" r="1.9" fill="#4c72b0" fill-opacity="0.17"/>
<circle cx="548.3" cy="43.9" r="1.9" fill="#4c72b0" fill-opacity="0.17"/>
<circle cx="558.2" cy="51.4" r="1.9" fill="#4c72b0" fill-opacity="0.17"/>
<circle cx="562.5" cy="41.1" r="1.9" fill="#4c72b0" fill-opacity="0.17"/>
<circle cx="555.6" cy="49.6" r="1.9" fill="#4c72b0" fill-opacity="0.17"/>
<circle cx="555.5" cy="48.8" r="1.9" fill="#4c72b0" fill-opacity="0.17"/>
<circle cx="550.8" cy="42.1" r="1.9" fill="#4c72b0" fill-opacity="0.17"/>
<circle cx="549.6" cy="41.9" r="1.9" fill="#4c72b0" fill-opacity="0.17"/>
<circle cx="556.3" cy="46.7" r="1.9" fill="#4c72b0" fill-opacity="0.17"/>
<circle cx="556.5" cy="42.2" r="1.9" fill="#4c72b0" fill-opacity="0.17"/>
<circle cx="550.8" cy="43.6" r="1.9" fill="#4c72b0" fill-opacity="0.17"/>
<circle cx="560.6" cy="52.4" r="1.9" fill="#4c72b0" fill-opacity="0.17"/>
<circle cx="561.9" cy="40.9" r="1.9" fill="#4c72b0" fill-opacity="0.17"/>
<circle cx="548.9" cy="52.0" r="1.9" fill="#4c72b0" fill-opacity="0.17"/>
<circle cx="554.9" cy="49.7" r="1.9" fill="#4c72b0" fill-opacity="0.17"/>
<circle cx="552.9" cy="46.4" r="1.9" fill="#4c72b0" fill-opacity="0.17"/>
<circle cx="555.7" cy="45.7" r="1.9" fill="#4c72b0" fill-opacity="0.17"/>
<circle cx="557.0" cy="40.6" r="1.9" fill="#4c72b0" fill-opacity="0.17"/>
<circle cx="558.5" cy="50.6" r="1.9" fill="#4c72b0" fill-opacity="0.17"/>
<circle cx="550.7" cy="46.4" r="1.9" fill="#4c72b0" fill-opacity="0.17"/>
<circle cx="559.1" cy="45.1" r="1.9" fill="#4c72b0" fill-opacity="0.17"/>
<circle cx="550.9" cy="43.2" r="1.9" fill="#4c72b0" fill-opacity="0.17"/>
<circle cx="555.7" cy="40.8" r="1.9" fill="#4c72b0" fill-opacity="0.17"/>
<circle cx="561.4" cy="50.0" r="1.9" fill="#4c72b0" fill-opacity="0.17"/>
<circle cx="558.6" cy="50.8" r="1.9" fill="#4c72b0" fill-opacity="0.17"/>
<circle cx="557.4" cy="45.3" r="1.9" fill="#4c72b0" fill-opacity="0.17"/>
<circle cx="557.0" cy="46.5" r="1.9" fill="#4c72b0" fill-opacity="0.17"/>
<circle cx="562.7" cy="50.0" r="1.9" fill="#4c72b0" fill-opacity="0.17"/>
<circle cx="551.9" cy="51.5" r="1.9" fill="#4c72b0" fill-opacity="0.17"/>
<circle cx="559.2" cy="49.7" r="1.9" fill="#4c72b0" fill-opacity="0.17"/>
<circle cx="560.2" cy="45.0" r="1.9" fill="#4c72b0" fill-opacity="0.17"/>
<circle cx="561.4" cy="51.0" r="1.9" fill="#4c72b0" fill-opacity="0.17"/>
<circle cx="558.4" cy="49.6" r="1.9" fill="#4c72b0" fill-opacity="0.17"/>
<circle cx="559.5" cy="45.1" r="1.9" fill="#4c72b0" fill-opacity="0.17"/>
<circle cx="559.2" cy="50.5" r="1.9" fill="#4c72b0" fill-opacity="0.10"/>
<circle cx="555.4" cy="53.3" r="1.9" fill="#4c72b0" fill-opacity="0.10"/>
<circle cx="552.1" cy="52.5" r="1.9" fill="#4c72b0" fill-opacity="0.10"/>
<circle cx="558.4" cy="54.4" r="1.9" fill="#4c72b0" fill-opacity="0.10"/>
<circle cx="554.3" cy="56.6" r="1.9" fill="#4c72b0" fill-opacity="0.10"/>
<circle cx="558.7" cy="52.4" r="1.9" fill="#4c72b0" fill-opacity="0.10"/>
<circle cx="558.6" cy="54.0" r="1.9" fill="#4c72b0" fill-opacity="0.10"/>
<circle cx="557.3" cy="52.7" r="1.9" fill="#4c72b0" fill-opacity="0.10"/>
<circle cx="562.0" cy="54.5" r="1.9" fill="#4c72b0" fill-opacity="0.10"/>
<circle cx="559.0" cy="55.3" r="1.9" fill="#4c72b0" fill-opacity="0.10"/>
<circle cx="561.8" cy="50.2" r="1.9" fill="#4c72b0" fill-opacity="0.10"/>
<circle cx="558.2" cy="55.2" r="1.9" fill="#4c72b0" fill-opacity="0.10"/>
<circle cx="554.6" cy="52.8" r="1.9" fill="#4c72b0" fill-opacity="0.10"/>
<circle cx="552.5" cy="51.4" r="1.9" fill="#4c72b0" fill-opacity="0.10"/>
<circle cx="555.8" cy="50.7" r="1.9" fill="#4c72b0" fill-opacity="0.10"/>
<circle cx="554.5" cy="56.3" r="1.9" fill="#4c72b0" fill-opacity="0.10"/>
<circle cx="557.5" cy="53.6" r="1.9" fill="#4c72b0" fill-opacity="0.10"/>
<circle cx="561.7" cy="54.0" r="1.9" fill="#4c72b0" fill-opacity="0.10"/>
<circle cx="562.0" cy="54.5" r="1.9" fill="#4c72b0" fill-opacity="0.10"/>
<circle cx="560.1" cy="50.5" r="1.9" fill="#4c72b0" fill-opacity="0.10"/>
<circle cx="558.0" cy="55.3" r="1.9" fill="#4c72b0" fill-opacity="0.10"/>
<circle cx="552.5" cy="56.5" r="1.9" fill="#4c72b0" fill-opacity="0.10"/>
<circle cx="553.6" cy="53.3" r="1.9" fill="#4c72b0" fill-opacity="0.10"/>
<circle cx="553.7" cy="53.5" r="1.9" fill="#4c72b0" fill-opacity="0.10"/>
<circle cx="558.1" cy="50.4" r="1.9" fill="#4c72b0" fill-opacity="0.10"/>
<circle cx="561.5" cy="52.9" r="1.9" fill="#4c72b0" fill-opacity="0.10"/>
<circle cx="557.3" cy="54.2" r="1.9" fill="#4c72b0" fill-opacity="0.10"/>
<circle cx="555.7" cy="52.0" r="1.9" fill="#4c72b0" fill-opacity="0.10"/>
<circle cx="558.6" cy="53.9" r="1.9" fill="#4c72b0" fill-opacity="0.10"/>
<circle cx="554.8" cy="55.0" r="1.9" fill="#4c72b0" fill-opacity="0.10"/>
<circle cx="555.0" cy="50.1" r="1.9" fill="#4c72b0" fill-opacity="0.10"/>
<circle cx="554.5" cy="50.3" r="1.9" fill="#4c72b0" fill-opacity="0.10"/>
<circle cx="553.6" cy="55.3" r="1.9" fill="#4c72b0" fill-opacity="0.10"/>
<circle cx="555.9" cy="56.3" r="1.9" fill="#4c72b0" fill-opacity="0.10"/>
<circle cx="559.5" cy="50.4" r="1.9" fill="#4c72b0" fill-opacity="0.10"/>
<circle cx="561.9" cy="56.6" r="1.9" fill="#4c72b0" fill-opacity="0.10"/>
<circle cx="552.7" cy="56.3" r="1.9" fill="#4c72b0" fill-opacity="0.10"/>
<circle cx="556.3" cy="53.3" r="1.9" fill="#4c72b0" fill-opacity="0.10"/>
<circle cx="561.7" cy="51.7" r="1.9" fill="#4c72b0" fill-opacity="0.10"/>
<circle cx="557.2" cy="56.6" r="1.9" fill="#4c72b0" fill-opacity="0.10"/>
<circle cx="507.7" cy="59.9" r="1.9" fill="#4c72b0" fill-opacity="0.17"/>
<circle cx="512.9" cy="57.5" r="1.9" fill="#4c72b0" fill-opacity="0.17"/>
<circle cx="517.5" cy="55.2" r="1.9" fill="#4c72b0" fill-opacity="0.17"/>
<circle cx="522.7" cy="52.4" r="1.9" fill="#4c72b0" fill-opacity="0.17"/>
<circle cx="528.0" cy="49.4" r="1.9" fill="#4c72b0" fill-opacity="0.17"/>
<circle cx="535.5" cy="44.0" r="1.9" fill="#4c72b0" fill-opacity="0.17"/>
<circle cx="531.0" cy="51.0" r="1.9" fill="#4c72b0" fill-opacity="0.17"/>
<circle cx="538.0" cy="49.0" r="1.9" fill="#4c72b0" fill-opacity="0.17"/>
<circle cx="541.0" cy="43.5" r="1.9" fill="#4c72b0" fill-opacity="0.17"/>
<circle cx="620.5" cy="35.9" r="1.9" fill="#4c72b0" fill-opacity="0.30"/>
<circle cx="627.4" cy="37.6" r="1.9" fill="#4c72b0" fill-opacity="0.30"/>
<circle cx="611.7" cy="37.8" r="1.9" fill="#4c72b0" fill-opacity="0.30"/>
<circle cx="600.7" cy="37.8" r="1.9" fill="#4c72b0" fill-opacity="0.30"/>
<circle cx="582.1" cy="37.9" r="1.9" fill="#4c72b0" fill-opacity="0.30"/>
<circle cx="576.2" cy="37.5" r="1.9" fill="#4c72b0" fill-opacity="0.30"/>
<circle cx="599.8" cy="37.0" r="1.9" fill="#4c72b0" fill-opacity="0.30"/>
<circle cx="586.4" cy="36.8" r="1.9" fill="#4c72b0" fill-opacity="0.30"/>
<circle cx="610.1" cy="36.5" r="1.9" fill="#4c72b0" fill-opacity="0.30"/>
<circle cx="606.3" cy="37.7" r="1.9" fill="#4c72b0" fill-opacity="0.30"/>
<circle cx="640.8" cy="38.1" r="1.9" fill="#4c72b0" fill-opacity="0.30"/>
<circle cx="584.6" cy="37.1" r="1.9" fill="#4c72b0" fill-opacity="0.30"/>
<circle cx="575.4" cy="38.0" r="1.9" fill="#4c72b0" fill-opacity="0.30"/>
<circle cx="613.2" cy="36.8" r="1.9" fill="#4c72b0" fill-opacity="0.30"/>
<circle cx="593.6" cy="37.2" r="1.9" fill="#4c72b0" fill-opacity="0.30"/>
<circle cx="608.8" cy="38.1" r="1.9" fill="#4c72b0" fill-opacity="0.30"/>
<circle cx="610.8" cy="36.7" r="1.9" fill="#4c72b0" fill-opacity="0.30"/>
<circle cx="581.0" cy="36.7" r="1.9" fill="#4c72b0" fill-opacity="0.30"/>
<circle cx="585.4" cy="38.4" r="1.9" fill="#4c72b0" fill-opacity="0.30"/>
<circle cx="632.0" cy="37.2" r="1.9" fill="#4c72b0" fill-opacity="0.30"/>
<circle cx="569.9" cy="37.7" r="1.9" fill="#4c72b0" fill-opacity="0.30"/>
<circle cx="598.5" cy="37.4" r="1.9" fill="#4c72b0" fill-opacity="0.30"/>
<circle cx="613.1" cy="37.8" r="1.9" fill="#4c72b0" fill-opacity="0.30"/>
<circle cx="572.4" cy="37.7" r="1.9" fill="#4c72b0" fill-opacity="0.30"/>
<circle cx="573.4" cy="37.0" r="1.9" fill="#4c72b0" fill-opacity="0.30"/>
<circle cx="613.7" cy="36.7" r="1.9" fill="#4c72b0" fill-opacity="0.30"/>
<circle cx="594.6" cy="37.0" r="1.9" fill="#4c72b0" fill-opacity="0.30"/>
<circle cx="592.4" cy="37.3" r="1.9" fill="#4c72b0" fill-opacity="0.30"/>
<circle cx="622.1" cy="37.4" r="1.9" fill="#4c72b0" fill-opacity="0.30"/>
<circle cx="575.9" cy="37.1" r="1.9" fill="#4c72b0" fill-opacity="0.30"/>
<circle cx="626.9" cy="36.7" r="1.9" fill="#4c72b0" fill-opacity="0.30"/>
<circle cx="582.8" cy="36.7" r="1.9" fill="#4c72b0" fill-opacity="0.30"/>
<circle cx="598.4" cy="37.3" r="1.9" fill="#4c72b0" fill-opacity="0.30"/>
<circle cx="594.3" cy="38.2" r="1.9" fill="#4c72b0" fill-opacity="0.30"/>
<circle cx="615.4" cy="37.7" r="1.9" fill="#4c72b0" fill-opacity="0.30"/>
<circle cx="607.6" cy="37.3" r="1.9" fill="#4c72b0" fill-opacity="0.30"/>
<circle cx="622.2" cy="37.8" r="1.9" fill="#4c72b0" fill-opacity="0.30"/>
<circle cx="594.3" cy="37.0" r="1.9" fill="#4c72b0" fill-opacity="0.30"/>
<circle cx="574.2" cy="37.4" r="1.9" fill="#4c72b0" fill-opacity="0.30"/>
<circle cx="573.1" cy="37.2" r="1.9" fill="#4c72b0" fill-opacity="0.30"/>
<circle cx="608.8" cy="36.5" r="1.9" fill="#4c72b0" fill-opacity="0.30"/>
<circle cx="589.1" cy="37.4" r="1.9" fill="#4c72b0" fill-opacity="0.30"/>
<circle cx="624.4" cy="37.6" r="1.9" fill="#4c72b0" fill-opacity="0.30"/>
<circle cx="616.0" cy="37.5" r="1.9" fill="#4c72b0" fill-opacity="0.30"/>
<circle cx="573.0" cy="37.0" r="1.9" fill="#4c72b0" fill-opacity="0.30"/>
<circle cx="618.4" cy="38.1" r="1.9" fill="#4c72b0" fill-opacity="0.30"/>
<circle cx="587.9" cy="37.6" r="1.9" fill="#4c72b0" fill-opacity="0.30"/>
<circle cx="620.7" cy="37.7" r="1.9" fill="#4c72b0" fill-opacity="0.30"/>
<circle cx="594.1" cy="37.9" r="1.9" fill="#4c72b0" fill-opacity="0.30"/>
<circle cx="609.1" cy="37.8" r="1.9" fill="#4c72b0" fill-opacity="0.30"/>
<circle cx="635.0" cy="38.3" r="1.9" fill="#4c72b0" fill-opacity="0.30"/>
<circle cx="599.4" cy="36.9" r="1.9" fill="#4c72b0" fill-opacity="0.30"/>
<circle cx="626.4" cy="37.2" r="1.9" fill="#4c72b0" fill-opacity="0.30"/>
<circle cx="596.6" cy="37.7" r="1.9" fill="#4c72b0" fill-opacity="0.30"/>
<circle cx="636.2" cy="37.6" r="1.9" fill="#4c72b0" fill-opacity="0.30"/>
<circle cx="593.8" cy="37.1" r="1.9" fill="#4c72b0" fill-opacity="0.30"/>
<circle cx="594.1" cy="37.0" r="1.9" fill="#4c72b0" fill-opacity="0.30"/>
<circle cx="595.7" cy="37.7" r="1.9" fill="#4c72b0" fill-opacity="0.30"/>
<circle cx="581.4" cy="36.5" r="1.9" fill="#4c72b0" fill-opacity="0.30"/>
<circle cx="607.0" cy="37.0" r="1.9" fill="#4c72b0" fill-opacity="0.30"/>
<circle cx="628.9" cy="37.0" r="1.9" fill="#4c72b0" fill-opacity="0.30"/>
<circle cx="623.2" cy="37.2" r="1.9" fill="#4c72b0" fill-opacity="0.30"/>
<circle cx="632.2" cy="37.3" r="1.9" fill="#4c72b0" fill-opacity="0.30"/>
<circle cx="605.2" cy="37.4" r="1.9" fill="#4c72b0" fill-opacity="0.30"/>
<circle cx="607.3" cy="36.1" r="1.9" fill="#4c72b0" fill-opacity="0.30"/>
<circle cx="615.2" cy="36.8" r="1.9" fill="#4c72b0" fill-opacity="0.30"/>
<circle cx="626.5" cy="37.9" r="1.9" fill="#4c72b0" fill-opacity="0.30"/>
<circle cx="625.3" cy="37.5" r="1.9" fill="#4c72b0" fill-opacity="0.30"/>
<circle cx="573.2" cy="38.0" r="1.9" fill="#4c72b0" fill-opacity="0.30"/>
<circle cx="633.5" cy="37.7" r="1.9" fill="#4c72b0" fill-opacity="0.30"/>
<circle cx="573.3" cy="37.1" r="1.9" fill="#4c72b0" fill-opacity="0.30"/>
<circle cx="622.2" cy="37.1" r="1.9" fill="#4c72b0" fill-opacity="0.30"/>
<circle cx="615.0" cy="37.3" r="1.9" fill="#4c72b0" fill-opacity="0.30"/>
<circle cx="623.6" cy="37.7" r="1.9" fill="#4c72b0" fill-opacity="0.30"/>
<circle cx="605.6" cy="37.3" r="1.9" fill="#4c72b0" fill-opacity="0.30"/>
<circle cx="592.0" cy="36.8" r="1.9" fill="#4c72b0" fill-opacity="0.30"/>
<circle cx="638.7" cy="37.0" r="1.9" fill="#4c72b0" fill-opacity="0.30"/>
<circle cx="606.8" cy="36.8" r="1.9" fill="#4c72b0" fill-opacity="0.30"/>
<circle cx="620.3" cy="37.0" r="1.9" fill="#4c72b0" fill-opacity="0.30"/>
<circle cx="597.4" cy="36.2" r="1.9" fill="#4c72b0" fill-opacity="0.30"/>
<circle cx="628.1" cy="36.8" r="1.9" fill="#4c72b0" fill-opacity="0.30"/>
<circle cx="626.6" cy="36.5" r="1.9" fill="#4c72b0" fill-opacity="0.30"/>
<circle cx="628.7" cy="38.3" r="1.9" fill="#4c72b0" fill-opacity="0.30"/>
<circle cx="614.4" cy="36.5" r="1.9" fill="#4c72b0" fill-opacity="0.30"/>
<circle cx="605.8" cy="37.1" r="1.9" fill="#4c72b0" fill-opacity="0.30"/>
<circle cx="598.2" cy="36.4" r="1.9" fill="#4c72b0" fill-opacity="0.30"/>
<circle cx="598.1" cy="37.8" r="1.9" fill="#4c72b0" fill-opacity="0.30"/>
<circle cx="640.3" cy="38.0" r="1.9" fill="#4c72b0" fill-opacity="0.30"/>
<circle cx="594.8" cy="37.5" r="1.9" fill="#4c72b0" fill-opacity="0.30"/>
<circle cx="598.4" cy="37.6" r="1.9" fill="#4c72b0" fill-opacity="0.30"/>
<circle cx="588.6" cy="37.5" r="1.9" fill="#4c72b0" fill-opacity="0.30"/>
<circle cx="589.8" cy="37.3" r="1.9" fill="#4c72b0" fill-opacity="0.30"/>
<circle cx="575.5" cy="36.8" r="1.9" fill="#4c72b0" fill-opacity="0.30"/>
<circle cx="580.3" cy="36.6" r="1.9" fill="#4c72b0" fill-opacity="0.30"/>
<circle cx="571.6" cy="36.7" r="1.9" fill="#4c72b0" fill-opacity="0.30"/>
<circle cx="634.3" cy="37.5" r="1.9" fill="#4c72b0" fill-opacity="0.30"/>
<circle cx="569.7" cy="37.5" r="1.9" fill="#4c72b0" fill-opacity="0.30"/>
<circle cx="583.1" cy="37.5" r="1.9" fill="#4c72b0" fill-opacity="0.30"/>
<circle cx="584.4" cy="37.2" r="1.9" fill="#4c72b0" fill-opacity="0.30"/>
<circle cx="583.6" cy="36.6" r="1.9" fill="#4c72b0" fill-opacity="0.30"/>
<circle cx="580.7" cy="37.2" r="1.9" fill="#4c72b0" fill-opacity="0.30"/>
<circle cx="623.1" cy="37.6" r="1.9" fill="#4c72b0" fill-opacity="0.30"/>
<circle cx="590.1" cy="36.4" r="1.9" fill="#4c72b0" fill-opacity="0.30"/>
<circle cx="602.5" cy="37.0" r="1.9" fill="#4c72b0" fill-opacity="0.30"/>
<circle cx="586.3" cy="38.1" r="1.9" fill="#4c72b0" fill-opacity="0.30"/>
<circle cx="592.3" cy="36.6" r="1.9" fill="#4c72b0" fill-opacity="0.30"/>
<circle cx="607.5" cy="37.9" r="1.9" fill="#4c72b0" fill-opacity="0.30"/>
<circle cx="583.4" cy="37.1" r="1.9" fill="#4c72b0" fill-opacity="0.30"/>
<circle cx="570.7" cy="38.2" r="1.9" fill="#4c72b0" fill-opacity="0.30"/>
<circle cx="595.5" cy="37.0" r="1.9" fill="#4c72b0" fill-opacity="0.30"/>
<circle cx="606.0" cy="36.9" r="1.9" fill="#4c72b0" fill-opacity="0.30"/>
<circle cx="640.3" cy="37.3" r="1.9" fill="#4c72b0" fill-opacity="0.30"/>
<circle cx="615.7" cy="37.3" r="1.9" fill="#4c72b0" fill-opacity="0.30"/>
<circle cx="602.0" cy="37.4" r="1.9" fill="#4c72b0" fill-opacity="0.30"/>
<circle cx="594.5" cy="37.5" r="1.9" fill="#4c72b0" fill-opacity="0.30"/>
<circle cx="611.8" cy="36.5" r="1.9" fill="#4c72b0" fill-opacity="0.30"/>
<circle cx="578.6" cy="37.5" r="1.9" fill="#4c72b0" fill-opacity="0.30"/>
<circle cx="586.2" cy="37.7" r="1.9" fill="#4c72b0" fill-opacity="0.30"/>
<circle cx="631.3" cy="36.6" r="1.9" fill="#4c72b0" fill-opacity="0.30"/>
<circle cx="640.5" cy="37.2" r="1.9" fill="#4c72b0" fill-opacity="0.30"/>
<circle cx="586.7" cy="37.0" r="1.9" fill="#4c72b0" fill-opacity="0.30"/>
<circle cx="624.0" cy="37.2" r="1.9" fill="#4c72b0" fill-opacity="0.30"/>
<circle cx="567.1" cy="37.7" r="1.9" fill="#4c72b0" fill-opacity="0.30"/>
<circle cx="627.8" cy="36.4" r="1.9" fill="#4c72b0" fill-opacity="0.30"/>
<circle cx="573.1" cy="37.2" r="1.9" fill="#4c72b0" fill-opacity="0.30"/>
<circle cx="574.2" cy="38.1" r="1.9" fill="#4c72b0" fill-opacity="0.30"/>
<circle cx="602.5" cy="36.1" r="1.9" fill="#4c72b0" fill-opacity="0.30"/>
<circle cx="610.4" cy="37.5" r="1.9" fill="#4c72b0" fill-opacity="0.30"/>
<circle cx="630.4" cy="37.0" r="1.9" fill="#4c72b0" fill-opacity="0.30"/>
<circle cx="597.9" cy="38.1" r="1.9" fill="#4c72b0" fill-opacity="0.30"/>
<circle cx="634.8" cy="38.1" r="1.9" fill="#4c72b0" fill-opacity="0.30"/>
<circle cx="582.4" cy="37.8" r="1.9" fill="#4c72b0" fill-opacity="0.30"/>
<circle cx="607.2" cy="37.0" r="1.9" fill="#4c72b0" fill-opacity="0.30"/>
<circle cx="628.6" cy="37.3" r="1.9" fill="#4c72b0" fill-opacity="0.30"/>
<circle cx="590.0" cy="37.2" r="1.9" fill="#4c72b0" fill-opacity="0.30"/>
<circle cx="589.6" cy="37.5" r="1.9" fill="#4c72b0" fill-opacity="0.30"/>
<circle cx="601.6" cy="37.2" r="1.9" fill="#4c72b0" fill-opacity="0.30"/>
<circle cx="617.8" cy="36.8" r="1.9" fill="#4c72b0" fill-opacity="0.30"/>
<circle cx="574.8" cy="36.9" r="1.9" fill="#4c72b0" fill-opacity="0.30"/>
<circle cx="638.6" cy="37.6" r="1.9" fill="#4c72b0" fill-opacity="0.30"/>
<circle cx="628.4" cy="37.3" r="1.9" fill="#4c72b0" fill-opacity="0.30"/>
<circle cx="594.9" cy="37.2" r="1.9" fill="#4c72b0" fill-opacity="0.30"/>
<circle cx="619.5" cy="37.4" r="1.9" fill="#4c72b0" fill-opacity="0.30"/>
<circle cx="600.9" cy="37.9" r="1.9" fill="#4c72b0" fill-opacity="0.30"/>
<circle cx="567.8" cy="38.2" r="1.9" fill="#4c72b0" fill-opacity="0.30"/>
<circle cx="582.3" cy="37.3" r="1.9" fill="#4c72b0" fill-opacity="0.30"/>
<circle cx="612.6" cy="37.2" r="1.9" fill="#4c72b0" fill-opacity="0.30"/>
<circle cx="606.9" cy="37.8" r="1.9" fill="#4c72b0" fill-opacity="0.30"/>
<circle cx="589.1" cy="37.0" r="1.9" fill="#4c72b0" fill-opacity="0.30"/>
<circle cx="616.3" cy="37.7" r="1.9" fill="#4c72b0" fill-opacity="0.30"/>
<circle cx="577.7" cy="57.9" r="1.9" fill="#4c72b0" fill-opacity="0.30"/>
<circle cx="582.4" cy="58.3" r="1.9" fill="#4c72b0" fill-opacity="0.30"/>
<circle cx="622.4" cy="53.9" r="1.9" fill="#4c72b0" fill-opacity="0.30"/>
<circle cx="582.6" cy="57.2" r="1.9" fill="#4c72b0" fill-opacity="0.30"/>
<circle cx="614.7" cy="55.9" r="1.9" fill="#4c72b0" fill-opacity="0.30"/>
<circle cx="567.1" cy="57.9" r="1.9" fill="#4c72b0" fill-opacity="0.30"/>
<circle cx="605.1" cy="56.5" r="1.9" fill="#4c72b0" fill-opacity="0.30"/>
<circle cx="587.1" cy="57.1" r="1.9" fill="#4c72b0" fill-opacity="0.30"/>
<circle cx="615.4" cy="55.4" r="1.9" fill="#4c72b0" fill-opacity="0.30"/>
<circle cx="575.7" cy="57.6" r="1.9" fill="#4c72b0" fill-opacity="0.30"/>
<circle cx="571.2" cy="58.1" r="1.9" fill="#4c72b0" fill-opacity="0.30"/>
<circle cx="565.7" cy="58.1" r="1.9" fill="#4c72b0" fill-opacity="0.30"/>
<circle cx="620.8" cy="54.3" r="1.9" fill="#4c72b0" fill-opacity="0.30"/>
<circle cx="603.1" cy="56.9" r="1.9" fill="#4c72b0" fill-opacity="0.30"/>
<circle cx="610.8" cy="56.4" r="1.9" fill="#4c72b0" fill-opacity="0.30"/>
<circle cx="582.5" cy="57.0" r="1.9" fill="#4c72b0" fill-opacity="0.30"/>
<circle cx="587.8" cy="57.8" r="1.9" fill="#4c72b0" fill-opacity="0.30"/>
<circle cx="606.5" cy="56.5" r="1.9" fill="#4c72b0" fill-opacity="0.30"/>
<circle cx="624.8" cy="54.4" r="1.9" fill="#4c72b0" fill-opacity="0.30"/>
<circle cx="600.6" cy="56.1" r="1.9" fill="#4c72b0" fill-opacity="0.30"/>
<circle cx="562.2" cy="57.5" r="1.9" fill="#4c72b0" fill-opacity="0.30"/>
<circle cx="603.3" cy="57.1" r="1.9" fill="#4c72b0" fill-opacity="0.30"/>
<circle cx="567.9" cy="57.3" r="1.9" fill="#4c72b0" fill-opacity="0.30"/>
<circle cx="612.3" cy="56.4" r="1.9" fill="#4c72b0" fill-opacity="0.30"/>
<circle cx="614.6" cy="55.4" r="1.9" fill="#4c72b0" fill-opacity="0.30"/>
<circle cx="610.8" cy="56.0" r="1.9" fill="#4c72b0" fill-opacity="0.30"/>
<circle cx="619.7" cy="54.5" r="1.9" fill="#4c72b0" fill-opacity="0.30"/>
<circle cx="593.5" cy="57.0" r="1.9" fill="#4c72b0" fill-opacity="0.30"/>
<circle cx="570.2" cy="57.4" r="1.9" fill="#4c72b0" fill-opacity="0.30"/>
<circle cx="594.5" cy="55.7" r="1.9" fill="#4c72b0" fill-opacity="0.30"/>
<circle cx="607.5" cy="56.6" r="1.9" fill="#4c72b0" fill-opacity="0.30"/>
<circle cx="622.4" cy="54.3" r="1.9" fill="#4c72b0" fill-opacity="0.30"/>
<circle cx="601.8" cy="56.8" r="1.9" fill="#4c72b0" fill-opacity="0.30"/>
<circle cx="576.9" cy="57.8" r="1.9" fill="#4c72b0" fill-opacity="0.30"/>
<circle cx="598.5" cy="56.8" r="1.9" fill="#4c72b0" fill-opacity="0.30"/>
<circle cx="621.4" cy="54.3" r="1.9" fill="#4c72b0" fill-opacity="0.30"/>
<circle cx="584.5" cy="57.2" r="1.9" fill="#4c72b0" fill-opacity="0.30"/>
<circle cx="624.3" cy="54.4" r="1.9" fill="#4c72b0" fill-opacity="0.30"/>
<circle cx="569.8" cy="58.2" r="1.9" fill="#4c72b0" fill-opacity="0.30"/>
<circle cx="597.4" cy="56.6" r="1.9" fill="#4c72b0" fill-opacity="0.30"/>
<circle cx="597.4" cy="56.9" r="1.9" fill="#4c72b0" fill-opacity="0.30"/>
<circle cx="625.5" cy="55.3" r="1.9" fill="#4c72b0" fill-opacity="0.30"/>
<circle cx="614.1" cy="55.5" r="1.9" fill="#4c72b0" fill-opacity="0.30"/>
<circle cx="614.6" cy="55.5" r="1.9" fill="#4c72b0" fill-opacity="0.30"/>
<circle cx="579.8" cy="57.9" r="1.9" fill="#4c72b0" fill-opacity="0.30"/>
<circle cx="598.3" cy="56.7" r="1.9" fill="#4c72b0" fill-opacity="0.30"/>
<circle cx="615.0" cy="55.9" r="1.9" fill="#4c72b0" fill-opacity="0.30"/>
<circle cx="566.0" cy="58.3" r="1.9" fill="#4c72b0" fill-opacity="0.30"/>
<circle cx="563.1" cy="58.3" r="1.9" fill="#4c72b0" fill-opacity="0.30"/>
<circle cx="622.1" cy="56.0" r="1.9" fill="#4c72b0" fill-opacity="0.30"/>
<circle cx="603.8" cy="56.4" r="1.9" fill="#4c72b0" fill-opacity="0.30"/>
<circle cx="608.9" cy="57.1" r="1.9" fill="#4c72b0" fill-opacity="0.30"/>
<circle cx="585.8" cy="56.6" r="1.9" fill="#4c72b0" fill-opacity="0.30"/>
<circle cx="562.1" cy="57.2" r="1.9" fill="#4c72b0" fill-opacity="0.30"/>
<circle cx="574.0" cy="57.4" r="1.9" fill="#4c72b0" fill-opacity="0.30"/>
<circle cx="586.1" cy="57.4" r="1.9" fill="#4c72b0" fill-opacity="0.30"/>
<circle cx="598.0" cy="57.2" r="1.9" fill="#4c72b0" fill-opacity="0.30"/>
<circle cx="578.1" cy="58.2" r="1.9" fill="#4c72b0" fill-opacity="0.30"/>
<circle cx="597.9" cy="56.6" r="1.9" fill="#4c72b0" fill-opacity="0.30"/>
<circle cx="563.5" cy="58.3" r="1.9" fill="#4c72b0" fill-opacity="0.30"/>
<circle cx="604.6" cy="57.4" r="1.9" fill="#4c72b0" fill-opacity="0.30"/>
<circle cx="600.0" cy="57.8" r="1.9" fill="#4c72b0" fill-opacity="0.30"/>
<circle cx="591.5" cy="56.6" r="1.9" fill="#4c72b0" fill-opacity="0.30"/>
<circle cx="605.8" cy="56.9" r="1.9" fill="#4c72b0" fill-opacity="0.30"/>
<circle cx="610.3" cy="56.3" r="1.9" fill="#4c72b0" fill-opacity="0.30"/>
<circle cx="625.6" cy="53.6" r="1.9" fill="#4c72b0" fill-opacity="0.30"/>
<circle cx="615.5" cy="55.9" r="1.9" fill="#4c72b0" fill-opacity="0.30"/>
<circle cx="589.2" cy="56.9" r="1.9" fill="#4c72b0" fill-opacity="0.30"/>
<circle cx="597.8" cy="57.5" r="1.9" fill="#4c72b0" fill-opacity="0.30"/>
<circle cx="595.1" cy="56.7" r="1.9" fill="#4c72b0" fill-opacity="0.30"/>
<circle cx="589.1" cy="57.7" r="1.9" fill="#4c72b0" fill-opacity="0.30"/>
<circle cx="564.6" cy="57.5" r="1.9" fill="#4c72b0" fill-opacity="0.30"/>
<circle cx="608.2" cy="57.1" r="1.9" fill="#4c72b0" fill-opacity="0.30"/>
<circle cx="599.8" cy="56.4" r="1.9" fill="#4c72b0" fill-opacity="0.30"/>
<circle cx="609.9" cy="56.1" r="1.9" fill="#4c72b0" fill-opacity="0.30"/>
<circle cx="565.5" cy="58.3" r="1.9" fill="#4c72b0" fill-opacity="0.30"/>
<circle cx="569.1" cy="57.1" r="1.9" fill="#4c72b0" fill-opacity="0.30"/>
<circle cx="586.8" cy="57.6" r="1.9" fill="#4c72b0" fill-opacity="0.30"/>
<circle cx="564.4" cy="57.5" r="1.9" fill="#4c72b0" fill-opacity="0.30"/>
<circle cx="576.5" cy="57.1" r="1.9" fill="#4c72b0" fill-opacity="0.30"/>
<circle cx="580.9" cy="57.2" r="1.9" fill="#4c72b0" fill-opacity="0.30"/>
<circle cx="565.4" cy="57.9" r="1.9" fill="#4c72b0" fill-opacity="0.30"/>
<circle cx="620.2" cy="55.6" r="1.9" fill="#4c72b0" fill-opacity="0.30"/>
<circle cx="617.3" cy="55.1" r="1.9" fill="#4c72b0" fill-opacity="0.30"/>
<circle cx="588.4" cy="57.4" r="1.9" fill="#4c72b0" fill-opacity="0.30"/>
<circle cx="609.5" cy="56.0" r="1.9" fill="#4c72b0" fill-opacity="0.30"/>
<circle cx="597.8" cy="57.1" r="1.9" fill="#4c72b0" fill-opacity="0.30"/>
<circle cx="612.5" cy="55.8" r="1.9" fill="#4c72b0" fill-opacity="0.30"/>
<circle cx="569.0" cy="56.5" r="1.9" fill="#4c72b0" fill-opacity="0.30"/>
<circle cx="561.0" cy="57.4" r="1.9" fill="#4c72b0" fill-opacity="0.30"/>
<circle cx="576.9" cy="57.5" r="1.9" fill="#4c72b0" fill-opacity="0.30"/>
<circle cx="565.1" cy="58.1" r="1.9" fill="#4c72b0" fill-opacity="0.30"/>
<circle cx="619.2" cy="55.2" r="1.9" fill="#4c72b0" fill-opacity="0.30"/>
<circle cx="584.2" cy="57.0" r="1.9" fill="#4c72b0" fill-opacity="0.30"/>
<circle cx="599.1" cy="57.0" r="1.9" fill="#4c72b0" fill-opacity="0.30"/>
<circle cx="619.4" cy="55.0" r="1.9" fill="#4c72b0" fill-opacity="0.30"/>
<circle cx="581.0" cy="56.4" r="1.9" fill="#4c72b0" fill-opacity="0.30"/>
<circle cx="624.5" cy="54.3" r="1.9" fill="#4c72b0" fill-opacity="0.30"/>
<circle cx="591.7" cy="57.3" r="1.9" fill="#4c72b0" fill-opacity="0.30"/>
<circle cx="621.0" cy="55.2" r="1.9" fill="#4c72b0" fill-opacity="0.30"/>
<circle cx="619.3" cy="55.3" r="1.9" fill="#4c72b0" fill-opacity="0.30"/>
<circle cx="584.0" cy="58.3" r="1.9" fill="#4c72b0" fill-opacity="0.30"/>
<circle cx="591.7" cy="57.7" r="1.9" fill="#4c72b0" fill-opacity="0.30"/>
<circle cx="625.7" cy="55.0" r="1.9" fill="#4c72b0" fill-opacity="0.30"/>
<circle cx="574.1" cy="57.5" r="1.9" fill="#4c72b0" fill-opacity="0.30"/>
<circle cx="618.2" cy="54.9" r="1.9" fill="#4c72b0" fill-opacity="0.30"/>
<circle cx="564.3" cy="58.3" r="1.9" fill="#4c72b0" fill-opacity="0.30"/>
<circle cx="581.3" cy="58.0" r="1.9" fill="#4c72b0" fill-opacity="0.30"/>
<circle cx="619.5" cy="55.5" r="1.9" fill="#4c72b0" fill-opacity="0.30"/>
<circle cx="569.8" cy="57.1" r="1.9" fill="#4c72b0" fill-opacity="0.30"/>
<circle cx="606.2" cy="57.0" r="1.9" fill="#4c72b0" fill-opacity="0.30"/>
<circle cx="566.1" cy="57.5" r="1.9" fill="#4c72b0" fill-opacity="0.30"/>
<circle cx="575.5" cy="57.4" r="1.9" fill="#4c72b0" fill-opacity="0.30"/>
<circle cx="573.8" cy="58.4" r="1.9" fill="#4c72b0" fill-opacity="0.30"/>
<circle cx="572.8" cy="57.8" r="1.9" fill="#4c72b0" fill-opacity="0.30"/>
<circle cx="612.4" cy="56.7" r="1.9" fill="#4c72b0" fill-opacity="0.30"/>
<circle cx="585.2" cy="56.9" r="1.9" fill="#4c72b0" fill-opacity="0.30"/>
<circle cx="599.3" cy="56.0" r="1.9" fill="#4c72b0" fill-opacity="0.30"/>
<circle cx="575.9" cy="57.3" r="1.9" fill="#4c72b0" fill-opacity="0.30"/>
<circle cx="604.4" cy="57.7" r="1.9" fill="#4c72b0" fill-opacity="0.30"/>
<circle cx="562.4" cy="44.4" r="1.9" fill="#4c72b0" fill-opacity="0.30"/>
<circle cx="561.1" cy="58.2" r="1.9" fill="#4c72b0" fill-opacity="0.30"/>
<circle cx="560.2" cy="47.6" r="1.9" fill="#4c72b0" fill-opacity="0.30"/>
<circle cx="565.8" cy="39.9" r="1.9" fill="#4c72b0" fill-opacity="0.30"/>
<circle cx="561.3" cy="50.7" r="1.9" fill="#4c72b0" fill-opacity="0.30"/>
<circle cx="562.3" cy="54.7" r="1.9" fill="#4c72b0" fill-opacity="0.30"/>
<circle cx="565.1" cy="40.7" r="1.9" fill="#4c72b0" fill-opacity="0.30"/>
<circle cx="565.0" cy="43.8" r="1.9" fill="#4c72b0" fill-opacity="0.30"/>
<circle cx="562.0" cy="44.4" r="1.9" fill="#4c72b0" fill-opacity="0.30"/>
<circle cx="561.3" cy="56.5" r="1.9" fill="#4c72b0" fill-opacity="0.30"/>
<circle cx="562.7" cy="58.3" r="1.9" fill="#4c72b0" fill-opacity="0.30"/>
<circle cx="561.8" cy="53.6" r="1.9" fill="#4c72b0" fill-opacity="0.30"/>
<circle cx="562.7" cy="46.5" r="1.9" fill="#4c72b0" fill-opacity="0.30"/>
<circle cx="563.6" cy="42.5" r="1.9" fill="#4c72b0" fill-opacity="0.30"/>
<circle cx="560.9" cy="49.8" r="1.9" fill="#4c72b0" fill-opacity="0.30"/>
<circle cx="560.7" cy="51.8" r="1.9" fill="#4c72b0" fill-opacity="0.30"/>
<circle cx="560.2" cy="54.3" r="1.9" fill="#4c72b0" fill-opacity="0.30"/>
<circle cx="561.4" cy="55.5" r="1.9" fill="#4c72b0" fill-opacity="0.30"/>
<circle cx="558.8" cy="52.3" r="1.9" fill="#4c72b0" fill-opacity="0.30"/>
<circle cx="563.9" cy="42.4" r="1.9" fill="#4c72b0" fill-opacity="0.30"/>
<circle cx="562.3" cy="54.2" r="1.9" fill="#4c72b0" fill-opacity="0.30"/>
<circle cx="564.6" cy="43.6" r="1.9" fill="#4c72b0" fill-opacity="0.30"/>
<circle cx="561.8" cy="47.6" r="1.9" fill="#4c72b0" fill-opacity="0.30"/>
<circle cx="559.6" cy="54.4" r="1.9" fill="#4c72b0" fill-opacity="0.30"/>
<circle cx="562.5" cy="43.6" r="1.9" fill="#4c72b0" fill-opacity="0.30"/>
<circle cx="561.6" cy="50.3" r="1.9" fill="#4c72b0" fill-opacity="0.30"/>
<circle cx="562.9" cy="48.7" r="1.9" fill="#4c72b0" fill-opacity="0.30"/>
<circle cx="561.8" cy="52.9" r="1.9" fill="#4c72b0" fill-opacity="0.30"/>
<circle cx="562.0" cy="50.2" r="1.9" fill="#4c72b0" fill-opacity="0.30"/>
<circle cx="564.0" cy="42.0" r="1.9" fill="#4c72b0" fill-opacity="0.30"/>
<circle cx="565.3" cy="39.3" r="1.9" fill="#4c72b0" fill-opacity="0.30"/>
<circle cx="561.5" cy="47.6" r="1.9" fill="#4c72b0" fill-opacity="0.30"/>
<circle cx="563.0" cy="44.1" r="1.9" fill="#4c72b0" fill-opacity="0.30"/>
<circle cx="561.1" cy="56.7" r="1.9" fill="#4c72b0" fill-opacity="0.30"/>
<circle cx="559.6" cy="50.1" r="1.9" fill="#4c72b0" fill-opacity="0.30"/>
<circle cx="562.7" cy="43.6" r="1.9" fill="#4c72b0" fill-opacity="0.30"/>
<circle cx="564.5" cy="41.9" r="1.9" fill="#4c72b0" fill-opacity="0.30"/>
<circle cx="562.5" cy="45.1" r="1.9" fill="#4c72b0" fill-opacity="0.30"/>
<circle cx="560.6" cy="51.1" r="1.9" fill="#4c72b0" fill-opacity="0.30"/>
<circle cx="561.4" cy="50.5" r="1.9" fill="#4c72b0" fill-opacity="0.30"/>
<circle cx="565.7" cy="40.7" r="1.9" fill="#4c72b0" fill-opacity="0.30"/>
<circle cx="562.4" cy="44.0" r="1.9" fill="#4c72b0" fill-opacity="0.30"/>
<circle cx="563.7" cy="42.1" r="1.9" fill="#4c72b0" fill-opacity="0.30"/>
<circle cx="559.6" cy="54.3" r="1.9" fill="#4c72b0" fill-opacity="0.30"/>
<circle cx="565.0" cy="40.2" r="1.9" fill="#4c72b0" fill-opacity="0.30"/>
<circle cx="564.1" cy="43.2" r="1.9" fill="#4c72b0" fill-opacity="0.30"/>
<circle cx="562.7" cy="57.9" r="1.9" fill="#4c72b0" fill-opacity="0.30"/>
<circle cx="561.8" cy="53.8" r="1.9" fill="#4c72b0" fill-opacity="0.30"/>
<circle cx="562.2" cy="58.2" r="1.9" fill="#4c72b0" fill-opacity="0.30"/>
<circle cx="562.5" cy="53.5" r="1.9" fill="#4c72b0" fill-opacity="0.30"/>
<circle cx="566.3" cy="39.8" r="1.9" fill="#4c72b0" fill-opacity="0.30"/>
<circle cx="567.0" cy="41.8" r="1.9" fill="#4c72b0" fill-opacity="0.30"/>
<circle cx="561.2" cy="46.7" r="1.9" fill="#4c72b0" fill-opacity="0.30"/>
<circle cx="566.7" cy="40.5" r="1.9" fill="#4c72b0" fill-opacity="0.30"/>
<circle cx="568.1" cy="39.7" r="1.9" fill="#4c72b0" fill-opacity="0.30"/>
<circle cx="561.5" cy="53.3" r="1.9" fill="#4c72b0" fill-opacity="0.30"/>
<circle cx="563.4" cy="43.5" r="1.9" fill="#4c72b0" fill-opacity="0.30"/>
<circle cx="564.6" cy="43.7" r="1.9" fill="#4c72b0" fill-opacity="0.30"/>
<circle cx="562.5" cy="48.0" r="1.9" fill="#4c72b0" fill-opacity="0.30"/>
<circle cx="561.4" cy="45.6" r="1.9" fill="#4c72b0" fill-opacity="0.30"/>
<circle cx="561.3" cy="58.1" r="1.9" fill="#4c72b0" fill-opacity="0.30"/>
<circle cx="561.3" cy="46.9" r="1.9" fill="#4c72b0" fill-opacity="0.30"/>
<circle cx="562.4" cy="51.7" r="1.9" fill="#4c72b0" fill-opacity="0.30"/>
<circle cx="561.9" cy="52.5" r="1.9" fill="#4c72b0" fill-opacity="0.30"/>
<circle cx="559.6" cy="55.9" r="1.9" fill="#4c72b0" fill-opacity="0.30"/>
<circle cx="560.3" cy="48.0" r="1.9" fill="#4c72b0" fill-opacity="0.30"/>
<circle cx="562.1" cy="46.7" r="1.9" fill="#4c72b0" fill-opacity="0.30"/>
<circle cx="560.6" cy="54.2" r="1.9" fill="#4c72b0" fill-opacity="0.30"/>
<circle cx="563.2" cy="43.2" r="1.9" fill="#4c72b0" fill-opacity="0.30"/>
<circle cx="562.1" cy="49.7" r="1.9" fill="#4c72b0" fill-opacity="0.30"/>
<circle cx="575.5" cy="59.8" r="1.9" fill="#4c72b0" fill-opacity="0.35"/>
<circle cx="566.0" cy="36.2" r="1.9" fill="#4c72b0" fill-opacity="0.35"/>
<circle cx="579.0" cy="36.3" r="1.9" fill="#4c72b0" fill-opacity="0.35"/>
<circle cx="606.0" cy="36.3" r="1.9" fill="#4c72b0" fill-opacity="0.35"/>
<circle cx="541.0" cy="45.5" r="1.9" fill="#4c72b0" fill-opacity="0.35"/>
<circle cx="545.0" cy="47.5" r="1.9" fill="#4c72b0" fill-opacity="0.35"/>
<polygon points="569.5,38.4 640.5,38.4 642.3,38.9 626.3,53.6 610.0,55.9 593.0,56.8 575.0,57.3 563.0,57.0 560.8,55.5 560.3,51.0 561.5,46.0 565.0,41.0" fill="#4f77b5" stroke="#4f77b5" stroke-width="2" stroke-linejoin="round"/>
<line x1="507.0" y1="176.2" x2="643.9" y2="36.7" stroke="#7c7c7c" stroke-width="1.15" stroke-dasharray="4.1,1.75"/>
<rect x="500.2" y="30" width="1" height="153.3" fill="#333"/>
<rect x="500.2" y="182.3" width="150.4" height="1" fill="#333"/>
<rect x="496.2" y="36.70" width="4.5" height="1" fill="#333"/>
<text x="494.4" y="41.40" font-size="11.7" text-anchor="end" fill="#262626">0</text>
<rect x="496.2" y="68.84" width="4.5" height="1" fill="#333"/>
<text x="494.4" y="73.54" font-size="11.7" text-anchor="end" fill="#262626">−20</text>
<rect x="496.2" y="100.98" width="4.5" height="1" fill="#333"/>
<text x="494.4" y="105.68" font-size="11.7" text-anchor="end" fill="#262626">−40</text>
<rect x="496.2" y="133.12" width="4.5" height="1" fill="#333"/>
<text x="494.4" y="137.82" font-size="11.7" text-anchor="end" fill="#262626">−60</text>
<rect x="496.2" y="165.26" width="4.5" height="1" fill="#333"/>
<text x="494.4" y="169.96" font-size="11.7" text-anchor="end" fill="#262626">−80</text>
<rect x="524.62" y="182.8" width="1" height="5" fill="#333"/>
<text x="525.12" y="198.5" font-size="11.7" text-anchor="middle" fill="#262626">−75</text>
<rect x="564.05" y="182.8" width="1" height="5" fill="#333"/>
<text x="564.55" y="198.5" font-size="11.7" text-anchor="middle" fill="#262626">−50</text>
<rect x="603.48" y="182.8" width="1" height="5" fill="#333"/>
<text x="603.98" y="198.5" font-size="11.7" text-anchor="middle" fill="#262626">−25</text>
<rect x="642.90" y="182.8" width="1" height="5" fill="#333"/>
<text x="643.40" y="198.5" font-size="11.7" text-anchor="middle" fill="#262626">0</text>
<text x="575.7" y="212.9" font-size="13.35" text-anchor="middle" fill="#262626">R2SCAN Energies</text>
<text x="575.2" y="227" font-size="13.35" text-anchor="middle" fill="#262626">(eV/atom)</text>
<text transform="translate(453.85,107) rotate(-90)" font-size="13.35" text-anchor="middle" fill="#262626">GGA/GGA+U Energies</text>
<text transform="translate(467.7,106.8) rotate(-90)" font-size="13.35" text-anchor="middle" fill="#262626">(eV/atom)</text>
</g>
</svg>
</body></html>
